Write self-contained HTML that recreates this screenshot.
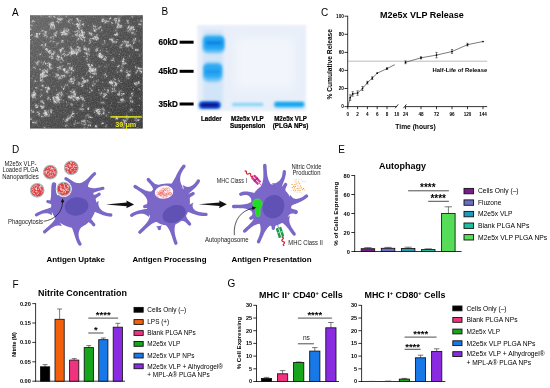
<!DOCTYPE html>
<html lang="en"><head><meta charset="utf-8"><title>M2e5x VLP figure</title>
<style>html,body{margin:0;padding:0;background:#fff;overflow:hidden}svg{display:block}text{font-family:"Liberation Sans",Arial,Helvetica,sans-serif}</style></head><body>
<svg width="550" height="388" viewBox="0 0 550 388">
<defs>
<linearGradient id="semg" x1="0" y1="0" x2="1" y2="1"><stop offset="0" stop-color="#686868"/><stop offset="0.5" stop-color="#4d4d4d"/><stop offset="1" stop-color="#383838"/></linearGradient>
<filter id="b1" x="-20%" y="-20%" width="140%" height="140%"><feGaussianBlur stdDeviation="0.42"/></filter>
<filter id="b2" x="-30%" y="-60%" width="160%" height="220%"><feGaussianBlur stdDeviation="1.6"/></filter>
<filter id="b3" x="-30%" y="-80%" width="160%" height="260%"><feGaussianBlur stdDeviation="0.9"/></filter>
<filter id="b5" x="-5%" y="-5%" width="110%" height="110%"><feGaussianBlur stdDeviation="0.9"/></filter>
<filter id="b6" x="-30%" y="-30%" width="160%" height="160%"><feGaussianBlur stdDeviation="5"/></filter>
<filter id="b4" x="-10%" y="-10%" width="120%" height="120%"><feGaussianBlur stdDeviation="2.2"/></filter>
<filter id="grain" x="0" y="0" width="100%" height="100%"><feTurbulence type="fractalNoise" baseFrequency="0.8" numOctaves="2" seed="4" result="n"/><feColorMatrix in="n" type="matrix" values="0 0 0 0 0.75  0 0 0 0 0.75  0 0 0 0 0.75  1.1 1.1 0 0 -0.95"/></filter>
<clipPath id="semc"><rect x="30" y="15.5" width="112.8" height="113.2"/></clipPath>
</defs>
<rect width="550" height="388" fill="#fff"/>
<g id="panelA">
<text x="12" y="15.6" font-size="10">A</text>
<rect x="30" y="15.2" width="112.8" height="113.4" fill="url(#semg)"/>
<rect x="30" y="15.5" width="112.8" height="113.2" filter="url(#grain)" opacity="0.32"/>
<g clip-path="url(#semc)" filter="url(#b3)">
<path d="M72 51.9h0M71.8 52.1h0M71.7 53h0M72.2 53.3h0M71.4 53.5h0M69.1 52.9h0M71.6 52.7h0M71.2 47h0M71.4 48.5h0M73.7 50.3h0M73.2 52h0M72.1 50.8h0M73.2 53.6h0M71.9 53h0M73.6 51.5h0M74.7 53.1h0M76.3 54.4h0M77.8 52.6h0M74.1 53.4h0M79.7 50.3h0M80.1 50.8h0M78.3 50.1h0M90.7 68h0M89.5 68.5h0M90 70.5h0M89.1 71.5h0M91.3 70.5h0M95 70.1h0M95.5 69.7h0M95 69.4h0M96 69.9h0M94.7 74.1h0M96.5 73.9h0M93.8 73.6h0M92.9 70.9h0M92.8 71.3h0M93.2 68.6h0M92.9 69.7h0M92 70h0M92.4 70.2h0M90.9 71h0M90.8 69.1h0M90.4 72.2h0M92.1 65.8h0M92.3 65.6h0M79.6 34.6h0M80.7 35.6h0M84.4 32.7h0M84 32.9h0M83.3 35h0M81.6 35.3h0M82.6 35.1h0M83.7 37h0M85 37.2h0M82.8 37.2h0M81.1 39.3h0M79.7 35.7h0M81.1 34.9h0M82.8 34.4h0M81.4 31.3h0M82.1 29.8h0M62.2 32.7h0M64.4 30.1h0M63.7 31.8h0M63.4 32.2h0M62.8 33.9h0M61.7 34.7h0M62.8 34.5h0M67.1 33.7h0M65 34.4h0M64.7 31.7h0M64.8 33.1h0M66 33.3h0M100.6 54.5h0M99.6 53.8h0M99.5 55.6h0M100.5 57h0M99.6 55.3h0M99.8 57h0M100.2 53.2h0M100.7 55.5h0M101.9 56.9h0M102.5 55.8h0M101.3 58.1h0M101.7 57h0M101.2 57h0M99 56.4h0M49.3 50.6h0M49.5 51.7h0M46.6 48.6h0M45.6 49.4h0M46.8 49.6h0M48.4 52.7h0M50.8 51h0M53.6 54.7h0M51.6 54.4h0M54.7 53.3h0M53.7 51.7h0M57.5 96.5h0M61.2 93h0M62.3 93.8h0M60 97.2h0M57 97.5h0M58.9 99.6h0M57.9 98.8h0M57.5 98.6h0M56.4 100h0M56.6 96.9h0M54.8 96.7h0M53.3 97.8h0M53.6 98.5h0M54.3 100.5h0M55.4 101.9h0M54.4 101.5h0M55.8 99.9h0M77.6 100.2h0M78 97h0M77 97.7h0M76.8 99.7h0M79.7 98.6h0M83 98.1h0M84.3 100.6h0M81.6 97.7h0M80.4 97h0M77.9 97.5h0M76.1 98h0M75.3 97.7h0M73.9 95.9h0M73.1 95.2h0M70.6 98.7h0M69.5 97h0M68.5 96.4h0M73.5 96.4h0M74.1 94.5h0M74.2 92h0M40.8 77.3h0M40.9 76.8h0M42.6 76.1h0M41.5 74.8h0M40.6 74.3h0M42.4 72.8h0M43.7 72.5h0M43 73.2h0M43 72.5h0M42.6 74.3h0M42.1 74.7h0M40.4 80h0M45.4 63.5h0M47.4 63.6h0M48.8 64h0M51.1 64.5h0M49.7 63.8h0M49.7 64.3h0M52 68.4h0M47.8 69.3h0M49.7 67.2h0M49.4 65.7h0M49.8 65.3h0M97.3 113.3h0M99 113.1h0M100 113.7h0M99.5 111.5h0M96.5 111.3h0M98.2 109.8h0M98.1 109.6h0M96.6 110.3h0M94.4 112.2h0M97.1 110.2h0M118.4 25.2h0M117.3 26.6h0M117.9 26.7h0M118 23.5h0M116.6 20.3h0M116.5 18.5h0M115 18.8h0M107.4 21.7h0M110.8 18.6h0M106.7 21.1h0M106.3 21.1h0M102.5 21.7h0M103.2 21.1h0M102.3 20.2h0M102.9 18.8h0M104.8 20.4h0M76.6 24.2h0M77.3 24h0M77.9 26.5h0M79 24.1h0M79.9 27.1h0M79.5 28.9h0M77.8 26.3h0M77.8 24.9h0M76.1 24.3h0M32.8 96.7h0M31.9 95.9h0M33.4 94.4h0M34.1 95.6h0M34.6 93h0M34.5 94.5h0M34.6 94.5h0M34.9 94.5h0M34.7 95h0M33.7 96.1h0M33.3 95.7h0M46.7 114.4h0M45.6 112.6h0M46.3 112.5h0M45.1 112.9h0M44.3 110.7h0M45.9 114.3h0M46.9 114.7h0M47.7 114.4h0M46.1 113.8h0M44.8 115.6h0M130.7 28.3h0M131.8 26.4h0M134.1 29.7h0M129.4 29.6h0M128.9 26.2h0M128.4 27.1h0M133.2 26.9h0M131.2 28.2h0M130.4 44.7h0M129.9 45.3h0M128.1 45.9h0M127.9 46h0M126.8 44.2h0M128.4 41.8h0M128 42.3h0M126.7 45.4h0M112.2 41h0M116.3 41.9h0M111.3 39.9h0M112 40.3h0M111 39.6h0M122.2 61.1h0M123.5 61.1h0M123.3 59.9h0M123.6 61.2h0M123.2 63.4h0M122.9 63.4h0M123.1 67.7h0M134.8 83.4h0M136 84.9h0M138.7 81.7h0M136.9 82.9h0M134.4 83.7h0M116 85.3h0M115.4 84.5h0M115.7 84.2h0M113.7 81.2h0M111.9 83h0M110.1 82.5h0M111.2 81h0M64.5 70.2h0M63.9 69h0M64.1 70.9h0M64.5 70.8h0M64 69.5h0M65.2 69.3h0M64.5 69.6h0M84.2 80.6h0M82.2 77.3h0M83.8 78.8h0M82.9 81.6h0M81.9 84.2h0M82.5 86.2h0M82.1 85.7h0M36.5 33.9h0M38 37h0M37.8 33.6h0M36.5 34.9h0M37.2 35.7h0M39.5 33.7h0M36.4 33.5h0M50.7 23.2h0M52.2 22.8h0M51.6 24.4h0M52.2 24.6h0M53.2 24h0M52.9 22.4h0M51.5 25h0M52.6 26.6h0M103.9 93.6h0M105.1 93.6h0M105.6 95h0M108.4 90.4h0M69.4 117.9h0M68.1 118.5h0M66.9 119.8h0M66.2 119.3h0M65.5 121.2h0M123.4 99.3h0M121.9 99.6h0M122.4 99.3h0M121.1 99.8h0M88.8 49.6h0M89.2 51.4h0M84.7 49.4h0M84.1 48.6h0M84.7 49.2h0M55.5 76.8h0M58.2 74.9h0M61 76.4h0M60 78.3h0M95.7 27.9h0M95.3 30h0M94.9 31h0M94.1 29.9h0M93.5 28.7h0M94.9 26.4h0M42.1 79.9h0M140.5 24.6h0M138.8 24h0M87 58.9h0M80.5 20.7h0M77.5 19.8h0M77.2 18.4h0M109.4 81.8h0M111.2 81.3h0M111.7 82.4h0M112.5 85.2h0M110.7 83.4h0M109.7 82.5h0M63.3 60.6h0M61.9 58.7h0M132.5 47h0M131.8 33h0M133.7 32.9h0M61.5 57.6h0M85 120.4h0M85.1 121.9h0M85.1 124.6h0M89.7 39.9h0M78 30.5h0M77.4 32.1h0M76.5 31.3h0M57.9 67.5h0M65.9 125.3h0M43 85.8h0M42.6 85.1h0M31.8 34.7h0M82.3 24.5h0M83.2 24.1h0M119.9 26.6h0M54.3 17h0M51.1 27.9h0M51 25.9h0M103.9 112.2h0M59.7 66.6h0M121.2 45.6h0M125 41.4h0M63.3 54.3h0M71.8 97.9h0M70 97.1h0M33.1 20.5h0M57 43.4h0M126.8 115.7h0M123.3 119.9h0M41.4 116.5h0M96.7 81h0M116 83.5h0M45.8 112.2h0M138.2 120.4h0M138.5 120.6h0M135.2 118.8h0M70.4 117h0M71.7 114.9h0M34.2 67.2h0M134.2 40.3h0M135.4 38.5h0M56.3 58.7h0M93.3 39h0M131.8 93.3h0M47.7 98.9h0M117.6 66.7h0M119.2 65.4h0M42.5 101.9h0M43.5 102.9h0M30.1 25.5h0M101.8 123.6h0M71.7 69.2h0M71.2 68.9h0M71.1 67.6h0M71.7 69.3h0M48.4 87.8h0M48.4 88.8h0M51.6 112.3h0M51.1 111.6h0M96.9 35.1h0M95.6 37.3h0M94.7 36.4h0M83.2 109.5h0M126.7 70.4h0M80 109.1h0M82.8 104.3h0M77.5 33.8h0M75.8 35h0M97 37h0M96.7 39.4h0M95.9 39.2h0M98.3 38.9h0M136.1 73h0M137.2 70.7h0M141.2 71.3h0M140.9 71.5h0M141.5 72.4h0M116.6 118.4h0M117.1 118.3h0M88.1 109h0M88.3 108.7h0M78.3 47h0M58.3 94.9h0M106.4 57.8h0M105.3 56.8h0M103.5 59.6h0M57.8 18.5h0M62.2 19.3h0M46.9 72.1h0M47 70.7h0M37.1 64.8h0M119.2 19.7h0M119.8 20.7h0M134 43h0M45 113.5h0M30.8 119.4h0M51.5 15h0M77.2 40h0M88 80.7h0M85.8 81.6h0M85.2 80.7h0M85.4 81h0M82.3 32.4h0M140.8 68.7h0M139.5 68.6h0M138.6 67.9h0M135.8 49.4h0M137.7 50h0M56 73.9h0M56.8 102.9h0M59 100.2h0M58.1 99.9h0M40.5 129.8h0M115.1 34.6h0M115.5 35.2h0M117.2 34h0M32.7 96.4h0M33.8 92.1h0M111.7 22.8h0M89.4 92.3h0M92 90.2h0M121.7 69.1h0M121.1 71.5h0M49.6 89.2h0M48.2 87.4h0M71.5 78.4h0M71.1 79.4h0M95.2 84h0M90.9 117.2h0M90.1 117.2h0M90.4 76.8h0M95.6 50h0M61.7 41.8h0M73.5 83.5h0M79.5 36.5h0M81.6 35.8h0M82.7 35.6h0M75.3 94.3h0M71.8 92.9h0M73.4 91.4h0M70.7 91.6h0M120.9 14.4h0M128.2 75h0M127.2 72.4h0M72.7 112.9h0M73.6 113.5h0M42.1 77h0M63.4 75.6h0M64.3 75.4h0M135.9 67.8h0M116.9 33.4h0M115.4 35h0M119.4 94.4h0M70.1 19.3h0M69.2 22.6h0M113.4 58.4h0M112.6 60.4h0M60 14.6h0M124.1 122.3h0M124.8 121h0M125.4 123.2h0M123.5 127h0M84.1 128.1h0M40 54.4h0M56.1 97.9h0M57.8 98.2h0M72.2 104.7h0M35.1 122.4h0M65.9 30.1h0M68.6 30.2h0M104.3 96.2h0M42.2 108.1h0M44.1 106.3h0M42 106.5h0M41 106.2h0M68.4 54.5h0M46.2 31.9h0M45.2 34.8h0M47.1 36.3h0M44.9 34.7h0M58.2 57.4h0M58.9 56.4h0M57.3 55.9h0M72.3 83.7h0M119.3 81.4h0M131.3 109h0M130.5 100.9h0M132.3 101.1h0M47.2 91.9h0M73 70.4h0M73.2 70.5h0M30.1 29.6h0M54.1 28.1h0M54.4 26.1h0M53.8 41.5h0M53.1 36.5h0M90.5 125.4h0M88.4 125.1h0M88 64.4h0M89.3 66.6h0M89.4 64.6h0M128.6 30.8h0M128.5 27.2h0M121.8 95.4h0M123.7 93.6h0M123.9 93.8h0M43.3 107.1h0M128.9 74.9h0M129.3 75.6h0M128.6 75.4h0M128.3 74.7h0M39.2 113.4h0M38.3 114.5h0M63 40.6h0M29.5 111.2h0M32.8 111.3h0M72.9 98.9h0M40.2 69.5h0M60.1 19.8h0M60.4 19.9h0M58.5 19.4h0M56.2 36h0M54.4 35.1h0M56.8 31.7h0M55.4 35.4h0M121.8 25.4h0M121.6 26.1h0M45.6 45.1h0M96.1 125.8h0M95.5 126.1h0M61.5 32.6h0M37 87.9h0M59.5 50.1h0M60.5 51.3h0M60.4 51.6h0M60.9 49.6h0M79.3 47.9h0M121.3 124.4h0M89.9 32.3h0M89.8 33.5h0M91.7 33.6h0M112.4 88.3h0M115.7 90.8h0M35 81.1h0M66.7 71.1h0M75.9 123h0M114.6 85.7h0M67.8 71.2h0M42.1 44.8h0M42.1 45.1h0M66.4 15.9h0M48.5 87.2h0M45.6 87.8h0M106.4 76.1h0M44.8 76.3h0M45.2 75.4h0M46.1 75.1h0M100.5 27.1h0M131 97.8h0M92.6 85.3h0M49.3 57.1h0M53 57.9h0M74.2 77.2h0M69.1 68.8h0M35.4 105.2h0M36.4 107.5h0M88 54.2h0M86 53.7h0M86.7 54.1h0M96.7 48.8h0M40.4 15.6h0M44.7 72.8h0M45.3 70.5h0M42.6 71h0M102 109.1h0M100.6 50.4h0M89.5 43.3h0M76.5 54.8h0M115.8 30.3h0M61 62.7h0M40.6 96.6h0M131.9 16.2h0M41.5 95.2h0M107 51.5h0M117.3 72h0M122.7 41.7h0M93.3 25.5h0M109 112.6h0M47.4 75.4h0M99.2 66.3h0M73.1 52.4h0M73.1 52.2h0M72.8 53.3h0M72 51h0M71.3 52.2h0M70.3 52.1h0M71.8 50.9h0M70.7 47.5h0M71 52.3h0M72.6 53.3h0M74.4 50.9h0M74.9 52.9h0M75.8 53.5h0M76.8 54.1h0M76.8 52.4h0M76.4 52.4h0M74.7 52h0M75.4 51.9h0M75.9 49.6h0M77.4 51.3h0M91.6 68.3h0M93 68.1h0M90.5 68h0M89.3 71.6h0M93.3 70.2h0M94.1 70h0M95.4 69.4h0M95.8 70.4h0M95.7 71.3h0M93 73.1h0M93.1 69.4h0M93.3 69h0M90.6 72.6h0M90.4 69.4h0M92.5 65.3h0M80.6 33.7h0M82.8 33.8h0M82.2 35h0M84.2 37.3h0M82.5 39.8h0M81.2 38.7h0M79.5 35.7h0M64.4 31.9h0M64.6 28.7h0M65 30.8h0M63.4 31.9h0M63.1 34.4h0M62.2 32.8h0M65.2 33.6h0M66.1 31.2h0M65.9 33.9h0M99.7 56.7h0M99.6 55.5h0M100.3 55.7h0M101.7 54.5h0M98.4 54.1h0M101.6 57.4h0M101.4 57.6h0M98.8 55h0M49.9 51.6h0M49.5 50.4h0M49 51.9h0M47.6 49.1h0M47.6 50.2h0M49.8 52.6h0M50.2 52.3h0M51.7 53.2h0M53.4 53.6h0M57.1 97.2h0M57.4 94.3h0M59.3 92.9h0M61.6 92.1h0M61.8 94.9h0M57.8 96.9h0M58.6 98.3h0M57 98.7h0M57.8 99h0M58.1 95.9h0M55.9 97.9h0M58.2 98.8h0M56.5 98.4h0M53.7 99.9h0M54.5 101.4h0M54.6 99.8h0M53.6 99.1h0M78.4 99.3h0M77.5 98.6h0M78.4 98.4h0M80.9 97.6h0M83.1 99.8h0M77.9 97.9h0M74.6 96.8h0M73.5 96.6h0M72.4 96.9h0M72.1 97.1h0M69.1 96.4h0M75.3 94h0M73.9 91.3h0M74.9 90h0M42.1 74.9h0M42.5 73.8h0M42.5 73.5h0M41.4 73.8h0M42.7 76h0M42.6 77.4h0M46 63.5h0M45.4 63.1h0M50.1 63.6h0M49.3 63.5h0M49.5 65.2h0M50.6 68.1h0M49.6 65.9h0M98.6 111.5h0M99 113.9h0M98.9 112.8h0M98.6 112.6h0M98.5 112.1h0M95.3 110.3h0M97.2 109.3h0M99.1 110h0M97.6 110.3h0M118.2 23.6h0M117.2 27.7h0M118 27.2h0M118.9 27.7h0M118.1 22.4h0M118.9 20.1h0M115.2 18.9h0M115.6 21.1h0M108.4 21.3h0M105.3 21.7h0M102 21.2h0M104.2 20.8h0M78.3 24.7h0M78.6 24.3h0M80.3 25.4h0M79 28.7h0M77.4 26.3h0M32.7 95.2h0M35 96h0M34.6 96.6h0M34.9 95.4h0M33.8 94.6h0M44.8 114.8h0M46.9 113.6h0M45.2 112.6h0M44.9 112.4h0M44.3 112.4h0M48.8 116.1h0M45.2 115h0M129.8 27.9h0M133.5 27.9h0M134.5 29.2h0M130.7 31h0M128.6 27.4h0M132.1 27.5h0M129.9 45.3h0M126.5 46.2h0M128 43.4h0M112.4 39.7h0M112.7 42.6h0M113.8 42.5h0M116.3 41.6h0M112.8 39.5h0M111.7 39.6h0M110.9 38.8h0M122.6 61.2h0M123.3 59.4h0M123.6 58.3h0M137.1 84.2h0M139 83.2h0M139 83.4h0M138 83.3h0M112.9 83.1h0M115.5 84h0M116.7 83.4h0M114.2 82.3h0M110.4 83h0M64.6 69.7h0M64.8 70.4h0M64.3 70h0M64 68.8h0M63.6 68.9h0M64.4 70.5h0M84.7 81.9h0M83 81.4h0M83.4 82.1h0M82.8 83.1h0M35.3 36.7h0M37.2 35.9h0M36.9 35.3h0M39.4 33.6h0M37.5 34h0M51.4 23.6h0M51.7 23h0M53.9 24.7h0M53 22.4h0M104.5 96.8h0M106.4 94.3h0M108.4 90.9h0M107.6 89.9h0M67.9 117h0M67.4 119.6h0M66.9 119.4h0M66.7 121.1h0M66.3 121h0M67.6 119.6h0M121.8 99.5h0M124 100.3h0M88.8 48.4h0M86.6 50.2h0M86.7 49.3h0M84.2 49h0M85.9 48.4h0M84.4 47.7h0M57.3 76.7h0M57.9 75.1h0M57.1 74h0M59.6 76.5h0M60.8 78.4h0M58.7 78.6h0M95.4 30.7h0M95 26.4h0M41.9 81.3h0M141.1 25h0M139.7 24.3h0M100.2 93.5h0M86.2 59h0M78.3 20.9h0M79.3 20.6h0M109.8 83.1h0M111.7 83.6h0M104.5 42.8h0M72.7 23.3h0M132.2 32.4h0M61.2 57.3h0M61.6 57.8h0M61.8 58.7h0M83.1 120.6h0M85.2 122.9h0M83.9 124.7h0M90.3 41.7h0M79.2 32.2h0M76.9 33.2h0M59.9 68.7h0M57.9 69.1h0M60.3 67.7h0M67.1 125.3h0M44.1 62.5h0M43 85.2h0M82.2 24.2h0M83.4 24.6h0M120.7 25.4h0M117.7 24.9h0M54.6 15.7h0M51 25.5h0M103.2 113.8h0M61 66.6h0M29.7 42.9h0M121.5 45h0M123.9 43.1h0M124.2 41.7h0M125.4 42.4h0M63.6 53.6h0M64.7 55.5h0M71 95.6h0M32.5 21.7h0M56.8 44.9h0M58.1 43.1h0M126.8 118.1h0M126.7 118h0M126.9 119h0M123.4 120.2h0M42 116.2h0M115.4 83.3h0M46.1 112.6h0M43.5 113.6h0M43.9 113.5h0M46 112.4h0M139.1 119.5h0M136.7 121h0M71.2 116h0M70.4 117.6h0M72.3 114.3h0M133.5 39.6h0M135.3 40.1h0M135.6 38.6h0M60.1 59.6h0M57.8 59.2h0M131.8 93.4h0M132.5 93.3h0M132.7 95.5h0M48.6 97.2h0M49 98.6h0M118.6 66.4h0M42.5 101.8h0M43.4 102.8h0M41.4 101.8h0M140.6 21.1h0M32 25.4h0M102.7 123.1h0M71.3 68.6h0M71.8 67.9h0M47 89.8h0M48 87.3h0M48.5 88.5h0M48.5 112.7h0M76.3 53.1h0M96.9 36.1h0M94.9 36.7h0M93.8 37.5h0M94.1 39.2h0M82.1 109.8h0M129.1 71.5h0M120.1 47.4h0M82.2 106.1h0M76 34.7h0M76.9 35.2h0M76.7 36h0M96.7 37h0M97.2 37.5h0M136.2 72.4h0M139.2 70.6h0M117.4 119.1h0M116.6 117.1h0M87.7 108.7h0M88.3 108.3h0M88.2 108.3h0M77.4 47h0M58.7 95.4h0M57.9 93.7h0M104.4 58.5h0M104.1 58.2h0M57.8 17.8h0M62.4 18.2h0M61.1 19.3h0M60.5 18.2h0M46.4 70.3h0M47.1 72.3h0M37.5 62.7h0M36.9 63.4h0M35.3 62.3h0M37.7 62.2h0M39.2 61.4h0M119.4 20.9h0M48.3 110.9h0M134.2 41.8h0M45.2 112.7h0M31.3 118.9h0M31.1 118.2h0M62.9 49.2h0M63.1 48.3h0M51.2 16.5h0M49.3 16.4h0M78.2 39.5h0M87.8 79.8h0M84.4 80.4h0M87.7 81.7h0M82.5 31.8h0M82.6 32.1h0M81.8 33h0M38.4 112.8h0M140.8 69.8h0M135.9 49.3h0M136 50.2h0M93.4 69.9h0M94.3 71.6h0M57.5 101.8h0M58.7 102h0M58.5 101.2h0M44.7 127.4h0M117.7 34.4h0M117.1 32.8h0M104.1 103.2h0M102.2 102.5h0M101.2 102.8h0M31.9 94.9h0M31.9 94.1h0M33.6 93.2h0M34.9 92.3h0M111.8 22.6h0M64.3 87.8h0M91.6 90.1h0M115.2 79.5h0M120.7 70.2h0M49.2 88.2h0M48.1 87.7h0M70.4 79h0M71.3 78.1h0M70.6 81.7h0M71.4 81.3h0M93.3 81.8h0M41.8 31.1h0M90.8 117.4h0M89.2 116.6h0M88.2 115.6h0M86 115.9h0M92.7 77h0M96.5 49.8h0M70.8 55.2h0M71.1 80.4h0M69.1 81.7h0M73.6 82.6h0M80.5 37.1h0M75 93.6h0M73.2 93.1h0M73.7 92.6h0M71.5 91h0M120.1 15.1h0M121.4 14.9h0M128.6 76h0M41.8 75.7h0M64.6 75.1h0M64.1 77.1h0M62.6 76.3h0M116 34.5h0M117.6 94.6h0M118.9 94h0M119.1 94.2h0M119.4 92.4h0M120.9 90.7h0M69.5 20.6h0M67 28.9h0M112.1 59.7h0M60.2 14.7h0M60.4 14.9h0M124.1 120.6h0M124.7 121.5h0M84 129.3h0M60.9 99.6h0M57.2 99h0M71.9 105.2h0M35.7 123h0M34 122h0M67 31.1h0M68.9 32.5h0M103.7 97h0M42.1 108.1h0M41.7 106.9h0M41.1 106.6h0M79.8 83h0M78.9 84.4h0M67.8 54.7h0M66.3 55h0M46 31.5h0M45.9 31.5h0M45.2 31.7h0M45.2 33.4h0M46.7 37.8h0M60 57.3h0M58.5 58.2h0M59.5 57h0M58 56.1h0M119 80.5h0M130.7 110.6h0M130.2 109.8h0M111.8 91.8h0M132.5 101.2h0M47.2 90.9h0M46.9 91.9h0M47.3 89.4h0M54 29h0M54.8 27.2h0M54 25.5h0M53.3 41.7h0M50.6 37.6h0M90.1 125.3h0M89.6 65.3h0M88.3 64h0M131.2 29.4h0M130.3 30.1h0M122.9 94.1h0M41.7 107h0M67.2 85.2h0M67.1 85.2h0M65.7 85.2h0M129.8 74.3h0M127.3 75h0M128 75.6h0M39.4 115.1h0M62.6 40.6h0M32.2 112.4h0M50.7 110.3h0M51.2 109.7h0M119.2 18.1h0M73.3 100h0M58.1 19.2h0M57.8 21h0M59.3 21.7h0M54.3 34.6h0M56.4 32.4h0M55.5 34.1h0M121.7 26.2h0M45.1 45.3h0M45.6 44.2h0M36.5 121.8h0M96.8 126.3h0M96.2 126.1h0M60.9 32.3h0M62.1 32.3h0M127.4 21.6h0M128 21.3h0M128.2 20.4h0M128 20.8h0M60.4 49.5h0M61.3 51.1h0M60.4 50.3h0M80.1 47.5h0M143.8 20.4h0M145.4 20.3h0M146.2 19h0M122.7 124.6h0M121.7 101.9h0M67.9 63.8h0M90.6 33.5h0M91.6 34.7h0M112.4 89.2h0M114.3 88.3h0M84.4 40.7h0M35.6 81.4h0M65.9 72.8h0M67.2 72h0M67 72.9h0M65 71.9h0M74.7 124.2h0M41.5 89.9h0M71.6 72.6h0M124.6 63.2h0M125.9 63.2h0M46.8 87.5h0M105.8 126.2h0M104.8 74.6h0M43.9 76.1h0M46.9 76h0M96.6 29.3h0M98.6 28.1h0M130 98.1h0M93.1 85.9h0M51.2 56.2h0M49.7 56.8h0M51.7 58.4h0M52.3 58h0M69.9 68.3h0M69.2 66.8h0M37.1 107.2h0M36.6 105.2h0M35.9 105.5h0M37.3 106.2h0M35.9 107.4h0M87.1 54.2h0M86.8 52.5h0M86.5 53.5h0M96.8 50.7h0M82.7 120.8h0M44.6 72.4h0M45.1 71.4h0M43.3 70.6h0M43.3 70.4h0M103.2 110h0M89.1 122.1h0M81.4 123.2h0M106.3 115.4h0M61.6 75.4h0M128.2 78.4h0M43.5 62.8h0M91.9 64.9h0M101.6 92.2h0M41.7 62.7h0M72.8 111.6h0M139.8 55h0M72.8 35.8h0M132.7 17.2h0M43.1 30.6h0M126.4 76.9h0M104.5 89.3h0M104.9 66.2h0M64.4 51.4h0M58.1 54.5h0M129.6 56.1h0M118.9 102.3h0M50.8 40.8h0M102.9 44.2h0M44 46.9h0M139.7 98.2h0M78.8 99.3h0M127.2 31h0M61.6 86.9h0M101.5 114.5h0M50.2 41.7h0M137.9 67.7h0M139.3 41.1h0" stroke="#909090" stroke-width="2.6" stroke-linecap="round" fill="none" opacity="0.42"/>
</g>
<g clip-path="url(#semc)" filter="url(#b1)">
<path d="M74.1 52.5h0M72.3 51.4h0M71.8 53.3h0M70.8 53.6h0M69.7 52.2h0M72.2 52.1h0M72.3 48.7h0M72.4 49.7h0M71.4 51.4h0M71.6 52.2h0M72.1 53.8h0M78.5 52.7h0M75 50.9h0M76.4 48.3h0M76.5 49.6h0M76.6 51.6h0M91.2 71.1h0M95.7 73.5h0M94.5 74.5h0M93.4 74.7h0M93.6 71.7h0M92.7 70.5h0M92.5 69.5h0M93.9 68.9h0M92.2 69.6h0M89.6 68.8h0M91 66.5h0M91.9 66.1h0M82.3 33.4h0M83.5 33.6h0M82.7 33.9h0M84.4 37.5h0M78.9 39.7h0M82.5 32.9h0M81 30.6h0M81.7 32h0M63 34.6h0M62.1 34.7h0M63.2 33.9h0M65.1 34.4h0M65.6 32.6h0M65.2 30.8h0M64.6 31.4h0M64.3 35.5h0M99.7 57.1h0M100.6 56.2h0M101 55.2h0M100.8 53.8h0M99.7 53.2h0M99.5 54.3h0M99.1 54h0M100.7 55.5h0M101.7 56.7h0M100.9 57.7h0M99.6 55.9h0M47.3 49.2h0M45 48.7h0M47.8 51.5h0M48.3 52.2h0M50.5 52.2h0M49.5 51.5h0M51 53.5h0M53.2 54.8h0M54 51.2h0M56.7 95.7h0M58.9 92.8h0M56.8 95.5h0M57.7 99.4h0M58.3 99.1h0M57.5 99.9h0M56.6 96.3h0M54 103.1h0M78 99.3h0M81.6 98.7h0M82.5 100.1h0M83.6 99.1h0M77.2 98h0M74.5 97.5h0M72.7 96.6h0M71.3 98.3h0M71.3 98h0M72.6 96.3h0M40.2 79.4h0M40.8 75.1h0M41 73.9h0M42.3 73.3h0M41.6 73.3h0M43.1 73.7h0M43.1 73.5h0M43.2 74.5h0M44.4 73.3h0M43.2 73.5h0M43.8 75.2h0M42 77.1h0M50.2 67.3h0M49.7 68.9h0M50 68.3h0M97.5 111.9h0M98.5 112.8h0M98.4 113h0M98.9 113.7h0M98.6 111.6h0M117.5 25.3h0M117.8 24.1h0M118.8 26.8h0M119.4 26.5h0M118.8 21h0M115.3 18.5h0M114.6 19.5h0M114.8 20h0M109 21.4h0M109.3 20.5h0M109.5 19.4h0M108.5 18.7h0M106.5 20.9h0M106.6 21.7h0M105.3 21.1h0M103.9 21.4h0M105.4 20.8h0M77.1 24.6h0M77.9 25h0M77.7 24.5h0M78.6 27h0M33.4 95.8h0M31.9 96h0M46.8 116.2h0M46.6 115.8h0M45.9 113.4h0M45.4 113.4h0M46.8 113.1h0M45.7 110.6h0M47.3 116.1h0M48.5 115.3h0M133.8 28.3h0M132.9 28.5h0M132.4 30.4h0M132 27.9h0M130.9 27.9h0M129.2 44.9h0M125.4 45.4h0M126.3 43.3h0M128.1 42.4h0M127 44.8h0M126.7 45.7h0M111.5 39.8h0M109.9 40.2h0M122.2 61.5h0M123.3 59.6h0M122.6 60.3h0M124.6 61.8h0M122.1 64h0M123.2 63.9h0M123 64.6h0M122.1 66.7h0M137.2 83.6h0M136.7 83.2h0M136.1 83.3h0M117.7 83.7h0M116.8 84.7h0M110.8 81.2h0M64.8 71h0M83.9 80.8h0M81.1 78.6h0M83.8 79.8h0M82.5 83.3h0M81.7 86.5h0M35.3 34.7h0M36.5 36.7h0M36.9 37.1h0M37 36.3h0M51.2 24.3h0M51.3 24.8h0M51.4 25.4h0M102.9 97h0M106.7 94.7h0M107.7 89.9h0M67.9 117h0M67.9 118.8h0M67.2 118.9h0M66.7 120.4h0M68.4 119.4h0M64.7 120.5h0M123.6 100.1h0M120.8 98.6h0M120.9 99.2h0M88.3 48.7h0M87.6 51.6h0M85.6 48.7h0M85.2 47.3h0M59 79.1h0M58.5 79.7h0M96 31.4h0M94.7 30.3h0M94.9 26.9h0M95.9 26.2h0M41.3 79.9h0M101 94.7h0M87.2 58.7h0M87.1 58.2h0M87 57.1h0M76.7 19.8h0M80.8 21.2h0M82.1 21.2h0M78.2 20h0M77.3 19.7h0M78 18.5h0M109.3 81.6h0M110.4 82.3h0M112.3 83.3h0M105.8 41.9h0M74.4 24.5h0M73.2 24h0M130.4 44.8h0M132 33.3h0M134 35.2h0M82 121.1h0M91 39.9h0M75.4 31.3h0M59.5 67.3h0M60.8 68.6h0M60.1 68.4h0M60.1 68.8h0M60.3 67.7h0M60.1 68.3h0M71.2 74.6h0M71 74.1h0M70.2 75.6h0M65.4 126.4h0M43.4 63.5h0M83.8 25.7h0M119.3 25.7h0M53.9 16.2h0M54.2 17h0M52 28.2h0M51.3 27.7h0M51.5 27.1h0M50.1 27.6h0M103.6 112.3h0M104.3 113.8h0M102.9 113.4h0M103.3 112.9h0M62.6 66.5h0M61.3 65.8h0M28.7 40.7h0M29.4 40.6h0M30.2 40.3h0M29.7 40.9h0M29.4 41.2h0M28.8 43.4h0M121.1 44.4h0M122.8 43.8h0M124.4 41.2h0M62.4 54.4h0M62.3 54h0M65.7 55.6h0M70.5 97.6h0M57.3 44.9h0M126.3 117.4h0M123.7 120.3h0M78.5 49.2h0M41.5 116.4h0M97.2 81.3h0M56.6 21.7h0M57.9 22.4h0M45.9 112.6h0M45 113.6h0M44.3 114.1h0M46.2 112.8h0M71.3 116.4h0M71.6 115.8h0M74 115h0M74.6 115.9h0M35.4 68.7h0M61 58.5h0M58.4 58.5h0M56.4 59.5h0M92.9 38.7h0M133.1 92.7h0M132.1 94.5h0M131.1 95.1h0M48.3 97.2h0M48.5 97.6h0M47.7 98.2h0M48.8 99.6h0M43 101.7h0M43.4 102.4h0M44 102.2h0M141.4 20.6h0M31 24.7h0M31.5 25.2h0M31.4 25.2h0M33.8 23.6h0M71.8 69.1h0M71.1 68.4h0M47.5 89.2h0M51.3 112.6h0M95.7 37.2h0M95.1 37.7h0M94.6 38.2h0M101.9 29.6h0M101.7 30.6h0M101.5 29.4h0M102 29.9h0M127.5 71.1h0M129.8 72.7h0M80.5 108.7h0M81.1 108.8h0M81.3 109h0M81 108.8h0M119.7 46.8h0M82.1 106.2h0M82.8 106.6h0M76 34.7h0M77.3 34.8h0M77 35.3h0M77.5 35.7h0M96.2 37.2h0M96.1 39.5h0M95.3 38.4h0M96.7 37.4h0M97.7 37.8h0M140.1 71.1h0M117.4 118.1h0M116.3 118.3h0M116.9 117.5h0M117 117h0M115.7 118.7h0M88.1 108.7h0M77 47.5h0M77.4 46.9h0M77.3 47.5h0M56.6 94.6h0M104.9 58.3h0M104.5 58h0M104.8 59.9h0M58.6 18.3h0M60.9 17.8h0M61.4 20.4h0M60.1 19.7h0M46.2 72.4h0M36.7 62.6h0M37.3 63.8h0M37.4 64.7h0M36.6 62.2h0M37.9 62.5h0M118.3 20.6h0M117.9 21.4h0M118.2 21.5h0M47 112.1h0M48 110.9h0M133.1 43.7h0M46.3 112.1h0M30.8 119.5h0M50.4 15.5h0M51.2 15.9h0M51 16.8h0M50.9 16h0M50.2 17.6h0M86.1 80.6h0M81.1 31.8h0M139.7 69.1h0M139.1 68h0M136.3 49.5h0M138.2 50.4h0M138.4 50.5h0M93.2 69.4h0M55.9 74.3h0M54.8 102.5h0M56.4 102.2h0M56.6 103.1h0M59.2 102.1h0M59 100.9h0M58.6 99.7h0M44.6 128.3h0M43.6 129.6h0M116.5 35.3h0M114.9 34.6h0M115.7 34.7h0M115.6 35.1h0M32.1 97.5h0M32.6 92.9h0M33.4 92.9h0M34.7 90.8h0M34.1 91.4h0M64.6 88.1h0M63.1 88.6h0M63.8 89.1h0M63.6 88.6h0M90.1 88.1h0M89.5 87.2h0M90.2 89.3h0M120.9 68.4h0M121.8 70.4h0M49.6 88.4h0M48.3 87.5h0M71.6 78.7h0M94.1 83.7h0M42.4 31.1h0M92.2 117.9h0M88 114.9h0M86.7 115.2h0M96.5 49.6h0M71.3 54.5h0M70.7 55.6h0M70.8 55h0M63.5 42.4h0M71.1 80.5h0M69.6 82h0M70.4 81.5h0M71.2 82.3h0M74.4 81.1h0M80.9 37.5h0M74.9 94.5h0M72.9 92.2h0M71.2 91.4h0M117.9 14.5h0M122 14.7h0M122.5 13.6h0M121.4 14.5h0M115.5 23.5h0M126 72.3h0M42.7 77h0M135 66.3h0M116.8 33.9h0M119 94.1h0M118.3 95.1h0M119 94.8h0M118.1 95.2h0M121 91h0M69 20.6h0M67.5 21.5h0M68.3 21.7h0M113.7 59.3h0M112.2 60.4h0M125.7 121.2h0M125 126h0M124.9 126h0M125.2 125.9h0M122.8 127.7h0M123.8 127.6h0M84.3 128h0M61.4 99.9h0M57.4 98.4h0M57.4 98h0M57 97.7h0M57.7 97.8h0M33.6 122.3h0M34.9 122.6h0M33.9 122h0M34 123.5h0M68.8 31.8h0M67.8 32.2h0M67.9 31.1h0M104.8 95.4h0M104.6 96.1h0M103.5 97h0M43.7 108.2h0M43.4 107.8h0M43.8 107.3h0M42.9 107.7h0M42.6 106.9h0M41.5 106.1h0M78.5 84h0M79.8 84.1h0M79 83.2h0M77.7 83.4h0M78 84.5h0M67.7 54.8h0M46 36.6h0M46.2 35.5h0M44.7 35.6h0M44.9 33.3h0M43.6 34h0M58.7 57.8h0M58.3 55.7h0M57.6 56.1h0M57.5 56.1h0M72.9 82h0M73.2 81.6h0M73.5 81.6h0M131.7 111.3h0M134 102.4h0M132.1 101.8h0M132 102.3h0M131.4 101h0M47.6 92.1h0M47.7 90.2h0M74.6 69.1h0M75 70.8h0M53.9 39.5h0M50.3 37.8h0M50.4 38.4h0M129.3 32.2h0M130.2 30.5h0M129.6 28.5h0M43.1 107.9h0M42.4 107.3h0M128.4 74.2h0M140.4 90.2h0M138.6 88.5h0M39.7 111.4h0M29.5 110.3h0M31.9 111.1h0M33.3 111.4h0M52.2 110.5h0M117.2 18.2h0M120 17.5h0M40.2 69.1h0M58.9 19.4h0M58.2 23h0M55.3 32.7h0M55.2 32.9h0M55.9 32.4h0M56.3 32.2h0M55.5 34.8h0M120.9 27.3h0M120.3 25.5h0M120.4 26.4h0M45.4 45.3h0M45.2 44.7h0M44.8 44.6h0M37.3 122.7h0M96.4 127.1h0M95.8 127.2h0M36.5 87.8h0M128 21h0M127 20.5h0M60.9 51.9h0M60 50.8h0M60.7 50.4h0M78.6 48.5h0M146 19.8h0M146 18.5h0M122.1 124.5h0M122.1 124.5h0M123.2 101h0M123.1 99.8h0M122.5 101h0M89.4 33.6h0M91.1 32.6h0M91.7 34h0M91.8 34.2h0M92 34.2h0M92.2 35.4h0M91.7 34.5h0M114.8 90.3h0M114.5 91.4h0M114 90.7h0M113.2 90.5h0M35.3 80.6h0M35.2 81.4h0M34.2 82.1h0M67.5 71.5h0M66.8 71.6h0M67.4 73.4h0M74.3 126.3h0M77.3 122.7h0M79.8 123h0M79.6 122.4h0M40.5 89.6h0M115 86.8h0M114.6 86h0M67.5 73.9h0M69 73.9h0M68.2 71.2h0M41 45.1h0M41.3 45.4h0M125.7 63.5h0M125.4 63.1h0M125.8 62.5h0M65.8 17.1h0M48.1 88.7h0M46.8 88h0M106.2 126.1h0M44.9 75.1h0M44.6 74.7h0M45 76.2h0M46.3 75.7h0M96.5 29.5h0M97.7 28.8h0M97.7 29.3h0M131 98.5h0M92.7 85h0M52.4 56.1h0M50.9 55.8h0M73.6 78.4h0M74.7 78.6h0M69.5 67.4h0M37.1 106.3h0M38.2 105.5h0M37 105h0M36.8 108h0M84.7 53.4h0M85.7 53.3h0M97.5 48.9h0M41.3 15.3h0M81 120.3h0M43.7 70.2h0M44.5 71.1h0M103.2 107.6h0M103.1 107.3h0M104.6 109.3h0M66.3 93.5h0M141.2 84h0M47.5 72.6h0M140.7 27.6h0M33.9 100.2h0M73 99.2h0M127.8 37.3h0M80.4 95.6h0M82.3 124h0M32.3 78.3h0M90.3 98.3h0M78.4 51.3h0M77.5 75.5h0M54.5 86.5h0M32.7 56.6h0M90.6 122.7h0M32.5 43h0M65 108.7h0M87.1 62h0M124.8 55h0M50.8 63.8h0M63.9 102.6h0M31.5 78.1h0M86.6 70h0M53.8 113.1h0M110.6 104.7h0M42.1 41.5h0M85.5 75.6h0M79.9 48.1h0M109 64.3h0M141.3 61.2h0M84.4 31.6h0M78.2 60.7h0M51.7 41.1h0M114 75.6h0M33.1 76.2h0M36.2 87.7h0M104.2 34.8h0M134 22.1h0M66.1 67.3h0M34.8 111.9h0M33.5 110.1h0M57.8 111.1h0M54.4 46.9h0M50.2 101.4h0M58.5 21.8h0M67.7 104.7h0M109.3 93.9h0M105.2 60.3h0M103.1 62.5h0M85.9 118.5h0M66.4 105.7h0M74.4 45.2h0M118.1 83.7h0M134.6 63h0M93.8 85.4h0M121.3 72.6h0M99.2 92.8h0M66.9 51.4h0M142.4 115.5h0M70.3 81.1h0M70.5 119.1h0M83 18.9h0M36.1 99.3h0M67.9 46.9h0M110.2 87.3h0M37.8 112.1h0M106.4 66.2h0M72.2 43.8h0M137.2 127.6h0M68.4 46.1h0M96.9 46.8h0M125 23.7h0M66.1 76.5h0M80.7 48.1h0M95.6 115h0M63.5 95.6h0M99.2 115.9h0M77.3 37.3h0M31.7 69h0M81.6 34h0M141.7 68.8h0M55 101.2h0M51.5 113.4h0M60.2 75.9h0M46.4 122.6h0M120.5 51.6h0M78.1 37.1h0M77.6 57.5h0M38.1 20h0M61.3 22.7h0M93.6 16.8h0M40.8 94.2h0M37.8 19.2h0M39.8 119.9h0M86.7 48.4h0M129.7 103.3h0M73.7 117.7h0M55.4 52.6h0M100.2 32h0M76.6 78.6h0M111.6 107.5h0M62.2 18.3h0M68.6 102.3h0M54.6 25.8h0M101.8 78.1h0M126.2 105.5h0M36.5 34.8h0M86.7 17.9h0M93.7 55.4h0M108.8 53.8h0M107.9 83.1h0M67.4 40.9h0M30.6 42.6h0M48.8 24.4h0M90 41.4h0M122 116.4h0M34.8 34.2h0M125.4 101.9h0M87.6 90.7h0M69.9 33.5h0M139.2 16.7h0M111.3 103h0M65.2 112.5h0M73.8 122.8h0M131 73.3h0M54.4 103.4h0M103.2 48.8h0M125.2 71.5h0M71 125.1h0M129 50.7h0M78.2 81.5h0M50.3 74.3h0M126.8 28.1h0M91.6 46.8h0M132.5 40.5h0M77.3 49.6h0M44.2 69.3h0M55.7 115.5h0M121.6 121.4h0M114.6 52.8h0M119.8 75.8h0M63.8 47.4h0M88.3 25.4h0M117.3 41.6h0M133.1 53.1h0M32.1 26.2h0M128.2 58h0M44.8 114.7h0M117.9 68.5h0M42.8 25.6h0M95.8 68.1h0M107.2 44.1h0M98.3 90.2h0M68.3 115h0M106 67.8h0M87.6 127.6h0M92.1 72.5h0M39.8 85.1h0M68.6 86.8h0M76 65.3h0M75.6 66.1h0M74.7 79.6h0M138.7 76.5h0M82.5 43.3h0M68.5 20.1h0" stroke="#969696" stroke-width="0.95" stroke-linecap="round" fill="none" opacity="0.75"/>
<path d="M73.1 52.4h0M72.9 52.1h0M73.1 52.2h0M74.4 52.6h0M72.8 53.3h0M71 51.6h0M72 51h0M71.5 53.1h0M71.3 52.2h0M69.7 53h0M70.3 52.1h0M69.9 53.7h0M71.8 50.9h0M71 50.5h0M70.7 47.5h0M73.2 49.7h0M71 52.3h0M71.6 53.3h0M72.6 53.3h0M71.8 54.1h0M74.4 50.9h0M74.9 52.4h0M74.9 52.9h0M75.2 53.1h0M75.8 53.5h0M77.5 53.8h0M76.8 54.1h0M76.6 52.2h0M76.8 52.4h0M76.3 52.9h0M76.4 52.4h0M77.4 52.5h0M74.7 52h0M75.6 51h0M75.4 51.9h0M74.4 52.9h0M75.9 49.6h0M76.8 50.1h0M77.4 51.3h0M90.2 68.2h0M91.6 68.3h0M92.2 68.3h0M93 68.1h0M90.2 68.4h0M90.5 68h0M89.3 69.1h0M89.3 71.6h0M90.8 71.2h0M93.3 70.2h0M93.2 70.6h0M94.1 70h0M93.8 69.6h0M95.4 69.4h0M95.8 68.4h0M95.8 70.4h0M95.7 70.6h0M95.7 71.3h0M94.5 73.5h0M93 73.1h0M93.7 69.2h0M93.1 69.4h0M94.1 69.2h0M93.3 69h0M93.8 68.9h0M90.6 72.6h0M91.4 70.5h0M90.4 69.4h0M90.5 67.4h0M92.5 65.3h0M79.2 34.5h0M80.6 33.7h0M80.4 34.8h0M82.8 33.8h0M81.7 32.9h0M82.2 35h0M82.8 36.9h0M84.2 37.3h0M82.4 37.3h0M82.5 39.8h0M81.1 38.2h0M81.2 38.7h0M80.3 37.7h0M79.5 35.7h0M81.4 30.5h0M64.4 31.9h0M63.9 28.9h0M64.6 28.7h0M65.2 30.9h0M65 30.8h0M63.7 30.8h0M63.4 31.9h0M64.2 31.7h0M63.1 34.4h0M62.7 34.2h0M62.2 32.8h0M63.3 32.5h0M65.2 33.6h0M65.2 33.5h0M66.1 31.2h0M65.7 33.3h0M65.9 33.9h0M66.5 34.4h0M99.7 56.7h0M99.3 56.4h0M99.6 55.5h0M99.5 56.1h0M100.3 55.7h0M98.1 56h0M101.7 54.5h0M101.7 54.5h0M98.4 54.1h0M103.6 55.8h0M101.6 57.4h0M102.7 56.2h0M101.4 57.6h0M100 56.9h0M98.8 55h0M99.3 55.3h0M49.9 51.6h0M49.3 51h0M49.5 50.4h0M50.6 50.4h0M49 51.9h0M49.3 51h0M47.6 49.1h0M46.7 48.9h0M47.6 50.2h0M47.4 51.2h0M49.8 52.6h0M51.1 52.6h0M50.2 52.3h0M50.7 53h0M51.7 53.2h0M53.2 53.9h0M53.4 53.6h0M52 53.8h0M57.1 97.2h0M57.4 96.1h0M57.4 94.3h0M57.6 94.2h0M59.3 92.9h0M59.3 93.5h0M61.6 92.1h0M62.2 94.7h0M61.8 94.9h0M61.6 95.7h0M57.8 96.9h0M57.1 96.6h0M58.6 98.3h0M58.5 98.2h0M57 98.7h0M58 97.7h0M57.8 99h0M57.8 97.2h0M58.1 95.9h0M57.4 96.7h0M55.9 97.9h0M57.6 98.8h0M58.2 98.8h0M58 100.7h0M56.5 98.4h0M55.8 98.1h0M53.7 99.9h0M55.9 101.6h0M54.5 101.4h0M54 100.9h0M54.6 99.8h0M54.2 99.8h0M53.6 99.1h0M52.8 97.5h0M78.4 99.3h0M78.3 98.6h0M77.5 98.6h0M77.1 98.4h0M78.4 98.4h0M76.4 98.9h0M80.9 97.6h0M81.9 98.9h0M83.1 99.8h0M81.8 96h0M77.9 97.9h0M74.6 96.2h0M74.6 96.8h0M74.6 94.3h0M73.5 96.6h0M73.2 96.5h0M72.4 96.9h0M72 97.6h0M72.1 97.1h0M69 95.7h0M69.1 96.4h0M70.4 96.8h0M75.3 94h0M74.2 92.3h0M73.9 91.3h0M74.4 91.7h0M74.9 90h0M41.2 73.9h0M42.1 74.9h0M42 74.9h0M42.5 73.8h0M43.9 74.6h0M42.5 73.5h0M42.3 73.8h0M41.4 73.8h0M40.9 74h0M42.7 76h0M42.2 77.2h0M42.6 77.4h0M42.4 79.1h0M46 63.5h0M45.5 63.8h0M45.4 63.1h0M49.3 64.7h0M50.1 63.6h0M49.5 63.2h0M49.3 63.5h0M48.8 62.4h0M49.5 65.2h0M50 65.1h0M50.6 68.1h0M51.3 67.5h0M49.6 65.9h0M50.1 64.9h0M98.6 111.5h0M98.4 112.4h0M99 113.9h0M98.6 113.2h0M98.9 112.8h0M98.9 114.6h0M98.6 112.6h0M99.8 111.6h0M98.5 112.1h0M97.3 112.2h0M95.3 110.3h0M96.1 108.8h0M97.2 109.3h0M99.2 108.9h0M99.1 110h0M98.1 109.6h0M97.6 110.3h0M99.1 110.1h0M118.2 23.6h0M118.4 24.6h0M117.2 27.7h0M117.4 27.1h0M118 27.2h0M119.8 27h0M118.9 27.7h0M117.6 26.3h0M118.1 22.4h0M118.9 21.1h0M118.9 20.1h0M115.9 18.3h0M115.2 18.9h0M114.2 19h0M115.6 21.1h0M116.5 20.8h0M108.4 21.3h0M110.7 17.8h0M105.3 21.7h0M105.8 22.8h0M102 21.2h0M101.7 20.1h0M104.2 20.8h0M77 24.3h0M78.3 24.7h0M78.9 25.4h0M78.6 24.3h0M79.6 24.6h0M80.3 25.4h0M78.9 26.4h0M79 28.7h0M77.8 25.7h0M77.4 26.3h0M33.2 97.2h0M32.7 95.2h0M33.9 94.8h0M35 96h0M35.3 98h0M34.6 96.6h0M34.4 95h0M34.9 95.4h0M35.9 94.9h0M33.8 94.6h0M44.4 113.6h0M44.8 114.8h0M45.8 114h0M46.9 113.6h0M46.7 114.7h0M45.2 112.6h0M44.9 113.4h0M44.9 112.4h0M45.3 110.7h0M44.3 112.4h0M45.5 113.3h0M48.8 116.1h0M45.3 115.4h0M45.2 115h0M45.4 116h0M129.8 27.9h0M131.6 28.7h0M133.5 27.9h0M133.7 27.1h0M134.5 29.2h0M133 29.2h0M130.7 31h0M128.4 28.2h0M128.6 27.4h0M129.9 26.7h0M132.1 27.5h0M131.3 28h0M129.9 45.3h0M126 46.4h0M126.5 46.2h0M126.1 43.9h0M128 43.4h0M127.1 41.8h0M112.4 39.7h0M112.4 41.7h0M112.7 42.6h0M113.5 41.4h0M113.8 42.5h0M114.8 42h0M116.3 41.6h0M114.2 41.2h0M112.8 39.5h0M112.9 40.2h0M111.7 39.6h0M109.8 39.3h0M110.9 38.8h0M111.4 39.1h0M122.6 61.2h0M123.5 61.6h0M123.3 59.4h0M124.2 59.5h0M123.6 58.3h0M123.9 63.1h0M137.1 84.2h0M138.8 82.8h0M139 83.2h0M138.7 83.4h0M139 83.4h0M138.9 83.2h0M138 83.3h0M136.4 82.2h0M112.9 83.1h0M114.9 85.5h0M115.5 84h0M116.5 85.5h0M116.7 83.4h0M115.5 82.3h0M114.2 82.3h0M110.7 83.2h0M110.4 83h0M112.3 82.8h0M64.6 69.7h0M63.5 69.6h0M64.8 70.4h0M63.8 69.1h0M64.3 70h0M64.7 68.8h0M64 68.8h0M63.1 69.6h0M63.6 68.9h0M62.9 69.7h0M64.4 70.5h0M65 68.7h0M84.7 81.9h0M82.9 78.6h0M83 81.4h0M83.2 81.5h0M83.4 82.1h0M83.9 83.1h0M82.8 83.1h0M82.7 85.5h0M35.3 36.7h0M37.7 37.6h0M37.2 35.9h0M37.4 36.6h0M36.9 35.3h0M40.2 33.5h0M39.4 33.6h0M39.5 33.6h0M37.5 34h0M51.6 24h0M51.4 23.6h0M50.3 24.7h0M51.7 23h0M53.2 24.1h0M53.9 24.7h0M52.7 24.6h0M53 22.4h0M53 22h0M104.5 96.8h0M103.8 94.8h0M106.4 94.3h0M107.2 92.5h0M108.4 90.9h0M107.2 90.8h0M107.6 89.9h0M108.4 90.1h0M67.9 117h0M67.8 117.1h0M67.4 119.6h0M68 118.8h0M66.9 119.4h0M67.2 118.8h0M66.7 121.1h0M67.7 120.1h0M66.3 121h0M67.3 120.4h0M67.6 119.6h0M120.6 100.5h0M121.8 99.5h0M121.9 99.4h0M124 100.3h0M121.8 100.4h0M88.8 48.4h0M88.1 50h0M86.6 50.2h0M86.5 50.5h0M86.7 49.3h0M84.4 48.3h0M84.2 49h0M84.4 49.6h0M85.9 48.4h0M85.6 49.6h0M84.4 47.7h0M83.8 46.7h0M57.3 76.7h0M56.9 76.1h0M57.9 75.1h0M57.6 74.1h0M57.1 74h0M58.5 74.6h0M59.6 76.5h0M61.2 78.3h0M60.8 78.4h0M60.2 78h0M58.7 78.6h0M58.8 78.3h0M95.4 30.7h0M94.2 30.5h0M95 26.4h0M95.3 26h0M41.9 81.3h0M40.6 81h0M141.1 25h0M139 24.6h0M139.7 24.3h0M100.7 95h0M100.2 93.5h0M87 58.9h0M86.2 59h0M77.9 19.6h0M78.3 20.9h0M79.7 22.4h0M79.3 20.6h0M77.4 19.9h0M109.8 83.1h0M109.3 82.9h0M111.7 83.6h0M110.6 82.7h0M104.5 42.8h0M104.6 41.2h0M72.7 23.3h0M131.9 45.7h0M132.2 32.4h0M132.2 32.7h0M61.2 57.3h0M61.4 55.9h0M61.6 57.8h0M62.2 58.3h0M61.8 58.7h0M83.3 120.7h0M83.1 120.6h0M83.6 120.7h0M85.2 122.9h0M85.3 123.1h0M83.9 124.7h0M84.6 124.9h0M90.3 41.7h0M77.1 31.2h0M79.2 32.2h0M75.1 32.1h0M76.9 33.2h0M61 68.9h0M59.9 68.7h0M59.3 68.3h0M57.9 69.1h0M58.7 67.2h0M60.3 67.7h0M69.6 75.8h0M67.1 125.3h0M44.5 61.6h0M44.1 62.5h0M43 64.6h0M43 85.2h0M43 86.7h0M82.2 24.2h0M83.6 25.2h0M83.4 24.6h0M83.7 23.3h0M120.7 25.4h0M118.4 24.7h0M117.7 24.9h0M55.1 17.3h0M54.6 15.7h0M50.9 27.4h0M51 25.5h0M103.9 113.7h0M103.2 113.8h0M103.1 113.2h0M61 66.6h0M60.8 66.8h0M29.7 42.9h0M121.1 45.3h0M121.5 45h0M121 46.1h0M123.9 43.1h0M125.6 41.3h0M124.2 41.7h0M124.7 40.8h0M125.4 42.4h0M65.6 54.4h0M63.6 53.6h0M62 54.6h0M64.7 55.5h0M68.7 97.6h0M71 95.6h0M34.3 21.7h0M32.5 21.7h0M31.9 22.1h0M56.8 44.9h0M58.2 43.4h0M58.1 43.1h0M126.2 116.9h0M126.8 118.1h0M126.4 117.6h0M126.7 118h0M127.2 118.2h0M126.9 119h0M127.3 119.7h0M123.4 120.2h0M79.2 49.1h0M42 116.2h0M56.9 21.6h0M115.4 83.3h0M43.6 113.1h0M46.1 112.6h0M45.8 113.9h0M43.5 113.6h0M44.3 112.9h0M43.9 113.5h0M45.3 112.9h0M46 112.4h0M138.7 120.3h0M139.1 119.5h0M137.2 120.1h0M136.7 121h0M136.5 118.6h0M71.2 116h0M70 116h0M70.4 117.6h0M72.1 116.6h0M72.3 114.3h0M33.8 67.4h0M133.5 39.6h0M134 39h0M135.3 40.1h0M133.9 39h0M135.6 38.6h0M59.7 59.8h0M60.1 59.6h0M57.8 59.1h0M57.8 59.2h0M58.1 59.4h0M131.8 93.4h0M132 93.5h0M132.5 93.3h0M132.4 95.7h0M132.7 95.5h0M48.8 97.3h0M48.6 97.2h0M48.3 98.1h0M49 98.6h0M118.7 66.1h0M118.6 66.4h0M41.1 100.9h0M42.5 101.8h0M43.8 103.2h0M43.4 102.8h0M41.1 102.1h0M41.4 101.8h0M40.6 101.7h0M140.6 21.1h0M141.1 20h0M32 25.4h0M102.5 123.3h0M102.7 123.1h0M103.5 123.2h0M71.3 68.6h0M72.1 67.8h0M71.8 67.9h0M72 68.7h0M47 89.8h0M47.9 88.1h0M48 87.3h0M47.8 88.4h0M48.5 88.5h0M50.7 111.8h0M48.5 112.7h0M76.5 53.9h0M76.3 53.1h0M97 34.8h0M96.9 36.1h0M95.6 37.8h0M94.9 36.7h0M95.5 36.6h0M93.8 37.5h0M94.4 38.9h0M94.1 39.2h0M93.6 38.4h0M82.1 109.8h0M101.9 30.4h0M129.1 71.5h0M81.2 109.3h0M120.1 47.4h0M82.6 106.2h0M82.2 106.1h0M83 105.6h0M76 34.7h0M77 34.3h0M76.9 35.2h0M77 35.1h0M76.7 36h0M75.7 34.5h0M96.7 37h0M96.3 39.5h0M97.2 37.5h0M98.4 38.3h0M136.2 72.4h0M137.7 71h0M139.2 70.6h0M140 70.7h0M117.4 119.1h0M117.2 118.4h0M116.6 117.1h0M116 119.1h0M87.7 108.7h0M88 109.1h0M88.3 108.3h0M88.2 108.9h0M88.2 108.3h0M78 47h0M77.4 47h0M77.4 46.5h0M58.7 95.4h0M58.5 94.4h0M57.9 93.7h0M106.1 60.1h0M104.4 58.5h0M104.3 58.5h0M104.1 58.2h0M105.1 60.2h0M57.8 17.8h0M60.1 18.2h0M62.4 18.2h0M61.3 18.6h0M61.1 19.3h0M59.3 18.9h0M60.5 18.2h0M46.1 71.3h0M46.4 70.3h0M47.3 72.1h0M47.1 72.3h0M37.7 63.1h0M37.5 62.7h0M38.1 64.1h0M36.9 63.4h0M36.5 63.2h0M35.3 62.3h0M38.1 62.7h0M37.7 62.2h0M38.8 61.6h0M39.2 61.4h0M38.4 61.1h0M119.4 20.9h0M119 20.5h0M48.3 110.9h0M46.9 112h0M134.2 41.8h0M133.5 42h0M45.2 112.7h0M45.5 112.4h0M31.3 118.9h0M31.1 118.9h0M31.1 118.2h0M62.3 47.8h0M62.9 49.2h0M62.9 48.2h0M63.1 48.3h0M62.3 48.6h0M51.2 16.5h0M49.4 17.1h0M49.3 16.4h0M78.2 38.9h0M78.2 39.5h0M87.1 79.7h0M87.8 79.8h0M85.6 81.8h0M84.4 80.4h0M87.4 81.2h0M87.7 81.7h0M82.8 33.1h0M82.5 31.8h0M82.2 33h0M82.6 32.1h0M81.8 32.9h0M81.8 33h0M81.6 32.3h0M38.4 112.8h0M37.7 112.1h0M140.8 69.8h0M138.5 68.6h0M135.9 49.3h0M135.6 49.8h0M136 50.2h0M137.9 49.6h0M93.4 69.9h0M93.2 69.9h0M94.3 71.6h0M54.1 102.7h0M57.5 101.8h0M57.3 100.8h0M58.7 102h0M58.7 101.4h0M58.5 101.2h0M45.4 128.3h0M44.7 127.4h0M42.6 130h0M117.7 34.4h0M117.6 35h0M117.1 32.8h0M116.7 34.1h0M104.1 103.2h0M103.5 102.4h0M102.2 102.5h0M101.9 102.4h0M101.2 102.8h0M33.1 97.9h0M31.9 94.9h0M32.3 94.7h0M31.9 94.1h0M33.3 92.7h0M33.6 93.2h0M34.1 90.7h0M34.9 92.3h0M33.8 92.9h0M111.8 22.6h0M64.5 86.5h0M64.3 87.8h0M63.4 88.9h0M91.6 90.1h0M90.1 88.5h0M115.2 79.5h0M114.1 78.4h0M120.7 70.2h0M122.2 71.1h0M49.2 88.2h0M48.1 87.5h0M48.1 87.7h0M72.5 78.9h0M70.4 79h0M71.6 79.6h0M71.3 78.1h0M70.5 81.7h0M70.6 81.7h0M70.7 80.9h0M71.4 81.3h0M93.5 81.5h0M93.3 81.8h0M94 83.7h0M41.8 31.1h0M92.2 117.2h0M90.8 117.4h0M90.5 117.5h0M89.2 116.6h0M88.7 117.6h0M88.2 115.6h0M88 114.8h0M86 115.9h0M91 77.4h0M92.7 77h0M92.6 77.2h0M96.5 49.8h0M97.4 50.2h0M70.8 55.2h0M61.9 41.9h0M71.1 80.4h0M69.5 81.3h0M69.1 81.7h0M68.9 80.6h0M73.6 82.6h0M74.1 80.5h0M80.5 37.1h0M82.8 35.8h0M75 93.6h0M74 92.8h0M73.2 93.1h0M72.6 92.5h0M73.7 92.6h0M72.8 89.6h0M71.5 91h0M119 15h0M120.1 15.1h0M120.2 15.1h0M121.4 14.9h0M116 22.4h0M128.6 76h0M74.1 113.4h0M41.8 75.7h0M64.4 76.5h0M64.6 75.1h0M65 76h0M64.1 77.1h0M62.2 75.8h0M62.6 76.3h0M114.9 34.2h0M116 34.5h0M117.5 94.2h0M117.6 94.6h0M118.6 93.9h0M118.9 94h0M117.9 93.6h0M119.1 94.2h0M119.1 95.3h0M119.4 92.4h0M119.1 91.4h0M120.9 90.7h0M71.5 19.9h0M69.5 20.6h0M66.7 29.5h0M67 28.9h0M114.4 61.1h0M112.1 59.7h0M59 16.1h0M60.2 14.7h0M60.3 14.4h0M60.4 14.9h0M124.7 122.1h0M124.1 120.6h0M124.6 121.4h0M124.7 121.5h0M124.7 124.6h0M84 129.3h0M40.4 54.5h0M60.9 99.6h0M59.6 98.9h0M57.2 99h0M57.9 98.7h0M71.9 105.2h0M71.6 103.9h0M35.7 123h0M33.4 122.7h0M34 122h0M32.6 122.3h0M67 31.1h0M66.9 30.8h0M68.9 32.5h0M67.9 30.9h0M103.7 97h0M104.6 96.4h0M42.1 108.1h0M43.1 105.7h0M41.7 106.9h0M41.5 107h0M41.1 106.6h0M79.3 83.4h0M79.8 83h0M78.9 84.8h0M78.9 84.4h0M67.6 54.7h0M67.8 54.7h0M67.3 55.3h0M66.3 55h0M46.1 32h0M46 31.5h0M45.9 32.3h0M45.9 31.5h0M44.7 31.8h0M45.2 31.7h0M45.9 32.4h0M45.2 33.4h0M46.3 33.6h0M46.7 37.8h0M58.5 57.5h0M60 57.3h0M58.2 57h0M58.5 58.2h0M59.1 57.5h0M59.5 57h0M58.8 56.8h0M58 56.1h0M73.7 81.9h0M119 80.5h0M118.5 78.7h0M130.7 110.6h0M132.6 110.1h0M130.2 109.8h0M113.3 91.6h0M111.8 91.8h0M132.8 102.2h0M132.5 101.2h0M132.4 102.2h0M47.2 90.9h0M47.9 92.5h0M46.9 91.9h0M46.8 90.8h0M47.3 89.4h0M30.3 28.7h0M54 29h0M54.3 27.8h0M54.8 27.2h0M54.4 26.9h0M54 25.5h0M54.4 26.2h0M53.3 41.7h0M51.8 37h0M50.6 37.6h0M90.2 124.8h0M90.1 125.3h0M88.6 64.4h0M89.6 65.3h0M89.1 65.9h0M88.3 64h0M130.3 29.1h0M131.2 29.4h0M130.1 29.4h0M130.3 30.1h0M122.6 94.4h0M122.9 94.1h0M40.9 105.5h0M41.7 107h0M43.1 107.2h0M67.2 85.2h0M67.2 84.3h0M67.1 85.2h0M67.2 85.3h0M65.7 85.2h0M65.7 84.7h0M129.8 74.3h0M129.7 75.3h0M127.3 75h0M127.6 74.3h0M128 75.6h0M38.5 112.1h0M39.4 115.1h0M62.9 41.8h0M62.6 40.6h0M31.5 110.2h0M32.2 112.4h0M33.6 112.5h0M50.7 110.3h0M50.7 109.9h0M51.2 109.7h0M118.4 18.8h0M119.2 18.1h0M74.3 100.2h0M73.3 100h0M39.4 69h0M58.1 19.2h0M59.5 19.5h0M57.8 21h0M59 21.9h0M59.3 21.7h0M55.2 34.8h0M54.3 34.6h0M55.5 32.8h0M56.4 32.4h0M55.9 32.4h0M55.5 34.1h0M120.9 27.4h0M121.7 26.2h0M119.7 26.7h0M45.1 45.3h0M46 43.9h0M45.6 44.2h0M45.8 44.1h0M36.5 121.8h0M35.9 123.3h0M96.8 126.3h0M96.3 126.7h0M96.2 126.1h0M96.2 126.7h0M60.9 32.3h0M61 30.9h0M62.1 32.3h0M35.6 87.8h0M127.4 21.6h0M126.8 20.2h0M128 21.3h0M127.4 22.9h0M128.2 20.4h0M126.9 20.3h0M128 20.8h0M61.6 49.6h0M60.4 49.5h0M60.2 49.5h0M61.3 51.1h0M60.6 50.5h0M60.4 50.3h0M61.4 50.8h0M80.1 47.5h0M79.7 48.3h0M143.8 20.4h0M145.1 19.8h0M145.4 20.3h0M145.5 19h0M146.2 19h0M122.2 124.5h0M122.7 124.6h0M124.1 100.8h0M121.7 101.9h0M69.6 63.9h0M67.9 63.8h0M89.4 33.9h0M90.6 33.5h0M91.1 34.9h0M91.6 34.7h0M91.8 34h0M112.4 89.2h0M112.6 89.3h0M114.3 88.3h0M84.5 39.8h0M84.4 40.7h0M84.8 40.5h0M35.6 81.4h0M66.7 71.4h0M65.9 72.8h0M66.1 72.6h0M67.2 72h0M67.5 72.3h0M67 72.9h0M66 71.8h0M65 71.9h0M67.7 69.7h0M74.7 124.2h0M41.9 89.7h0M41.5 89.9h0M71.6 73h0M71.6 72.6h0M124.8 64.3h0M124.6 63.2h0M125.7 63h0M125.9 63.2h0M66.2 16.1h0M46.8 87.5h0M45.8 87.5h0M105.8 126.2h0M105.7 74.8h0M104.8 74.6h0M46.3 74.9h0M43.9 76.1h0M44.6 76.2h0M46.9 76h0M45.7 75.8h0M96.6 29.3h0M99.3 28.9h0M98.6 28.1h0M100.9 26.6h0M130 98.1h0M92.5 86h0M93.1 85.9h0M51.8 55.8h0M51.2 56.2h0M50.3 56.8h0M49.7 56.8h0M51.6 57h0M51.7 58.4h0M52.5 58.3h0M52.3 58h0M75 79.8h0M69.9 68.3h0M69.9 67.9h0M69.2 66.8h0M36.6 107.1h0M37.1 107.2h0M36 105.1h0M36.6 105.2h0M36.4 104.8h0M35.9 105.5h0M35.8 106h0M37.3 106.2h0M37.7 106.6h0M35.9 107.4h0M88.3 54h0M87.1 54.2h0M87.1 53.1h0M86.8 52.5h0M87.1 54.3h0M86.5 53.5h0M97.5 49.9h0M96.8 50.7h0M41.4 16h0M82.7 120.8h0M81.7 121.6h0M44.6 72.4h0M43.8 71.5h0M45.1 71.4h0M45.5 71.1h0M43.3 70.6h0M42.6 70.7h0M43.3 70.4h0M103.4 109.4h0M103.2 110h0M63.1 65.2h0M89.1 122.1h0M70.3 53.3h0M81.4 123.2h0M104 74.7h0M106.3 115.4h0M56.4 89.8h0M61.6 75.4h0M63.3 100.6h0M128.2 78.4h0M38 106.4h0M43.5 62.8h0M44.2 36.6h0M91.9 64.9h0M67.5 34.7h0M101.6 92.2h0M86.4 73.8h0M41.7 62.7h0M137.7 20h0M72.8 111.6h0M43.2 81.1h0M139.8 55h0M77.2 43.4h0M72.8 35.8h0M111 54.5h0M132.7 17.2h0M40.5 75.4h0M43.1 30.6h0M106.2 48.6h0M126.4 76.9h0M139.4 105.3h0M104.5 89.3h0M137.1 50h0M104.9 66.2h0M105.1 59.2h0M64.4 51.4h0M58.2 70.2h0M58.1 54.5h0M121.1 82.4h0M129.6 56.1h0M49.4 29.9h0M118.9 102.3h0M136.5 31.1h0M50.8 40.8h0M56.5 95.1h0M102.9 44.2h0M87.1 72.2h0M44 46.9h0M66 34.9h0M139.7 98.2h0M87.4 61.2h0M78.8 99.3h0M70.3 63.6h0M127.2 31h0M89.8 60.7h0M61.6 86.9h0M76.8 27h0M101.5 114.5h0M77.1 113.3h0M50.2 41.7h0M104.7 77h0M137.9 67.7h0M83.8 85.2h0M139.3 41.1h0" stroke="#b6b6b6" stroke-width="1.15" stroke-linecap="round" fill="none" opacity="0.8"/>
<path d="M72 51.9h0M73.3 53.7h0M71.8 52.1h0M71.4 51.6h0M71.7 53h0M72.3 54.1h0M72.2 53.3h0M71.8 52.4h0M71.4 53.5h0M71.4 53.4h0M69.1 52.9h0M71.4 54h0M71.6 52.7h0M71 49.1h0M71.2 47h0M70.2 48.1h0M71.4 48.5h0M71.7 49h0M73.7 50.3h0M72.2 51.5h0M73.2 52h0M72.2 49.8h0M72.1 50.8h0M71.9 52.8h0M73.2 53.6h0M72 53.4h0M71.9 53h0M73.2 52.1h0M73.6 51.5h0M74.6 52.3h0M74.7 53.1h0M76.9 53.3h0M76.3 54.4h0M77.8 51.9h0M77.8 52.6h0M76.1 53.2h0M74.1 53.4h0M76.2 49.9h0M79.7 50.3h0M80.2 50.1h0M80.1 50.8h0M80 51.5h0M78.3 50.1h0M78.6 49.3h0M90.7 68h0M90.4 66.7h0M89.5 68.5h0M88.8 70.4h0M90 70.5h0M89.9 70.5h0M89.1 71.5h0M91.2 71.2h0M91.3 70.5h0M91.9 71.1h0M95 70.1h0M94.5 70.2h0M95.5 69.7h0M95.4 69.1h0M95 69.4h0M95.4 69.1h0M96 69.9h0M95 72.6h0M94.7 74.1h0M95.2 73.9h0M96.5 73.9h0M93.3 73.6h0M93.8 73.6h0M92.2 73.4h0M92.9 70.9h0M92.6 71.1h0M92.8 71.3h0M92.8 70.8h0M93.2 68.6h0M91.8 69.8h0M92.9 69.7h0M92 69.6h0M92 70h0M91.7 70.2h0M92.4 70.2h0M92.5 71.4h0M90.9 71h0M90.2 69.8h0M90.8 69.1h0M89.6 71.5h0M90.4 72.2h0M90.6 68.9h0M92.1 65.8h0M91.8 65.3h0M92.3 65.6h0M91.5 64.6h0M79.6 34.6h0M80 34h0M80.7 35.6h0M82.4 35h0M84.4 32.7h0M82.8 32.4h0M84 32.9h0M84 34.4h0M83.3 35h0M83 32.5h0M81.6 35.3h0M81.8 35.7h0M82.6 35.1h0M83.5 36.7h0M83.7 37h0M84.1 38.4h0M85 37.2h0M83.9 37.5h0M82.8 37.2h0M81.9 39.4h0M81.1 39.3h0M80 37.9h0M79.7 35.7h0M78.6 35.8h0M81.1 34.9h0M82.3 33.4h0M82.8 34.4h0M81.7 32.4h0M81.4 31.3h0M81.1 30.2h0M82.1 29.8h0M81.8 30.5h0M62.2 32.7h0M63 33h0M64.4 30.1h0M63.6 31h0M63.7 31.8h0M63.1 33.1h0M63.4 32.2h0M64.3 32.5h0M62.8 33.9h0M61.7 35.1h0M61.7 34.7h0M62.6 32.2h0M62.8 34.5h0M64.3 34.4h0M67.1 33.7h0M66.2 34.1h0M65 34.4h0M65.4 34.1h0M64.7 31.7h0M64.9 32.8h0M64.8 33.1h0M66.2 33.6h0M66 33.3h0M100.4 53.9h0M100.6 54.5h0M99.5 53.7h0M99.6 53.8h0M99.1 55h0M99.5 55.6h0M100 57h0M100.5 57h0M99.9 56.5h0M99.6 55.3h0M99.1 55.9h0M99.8 57h0M100.4 54.1h0M100.2 53.2h0M100 54.1h0M100.7 55.5h0M101.7 55.2h0M101.9 56.9h0M101.5 56.7h0M102.5 55.8h0M101.3 56.8h0M101.3 58.1h0M100 56.8h0M101.7 57h0M102.5 57.6h0M101.2 57h0M99.4 55.8h0M99 56.4h0M48.4 51.4h0M49.3 50.6h0M47.6 49.8h0M49.5 51.7h0M49 51.6h0M46.6 48.6h0M46.7 48.7h0M45.6 49.4h0M45.7 49.4h0M46.8 49.6h0M46.8 50.6h0M48.4 52.7h0M49.4 53.4h0M50.8 51h0M52.3 54h0M53.6 54.7h0M52 54.5h0M51.6 54.4h0M53.3 53.3h0M54.7 53.3h0M54.3 52.2h0M53.7 51.7h0M58.5 97.5h0M57.5 96.5h0M60.9 94.1h0M61.2 93h0M61.2 92.7h0M62.3 93.8h0M61.2 95h0M60 97.2h0M58.1 97.1h0M57 97.5h0M57.2 97.4h0M58.9 99.6h0M58.9 99.5h0M57.9 98.8h0M57.3 98h0M57.5 98.6h0M57 100.5h0M56.4 100h0M56 97.6h0M56.6 96.9h0M55.2 97h0M54.8 96.7h0M53.1 97.2h0M53.3 97.8h0M53.1 99.1h0M53.6 98.5h0M54.1 99h0M54.3 100.5h0M55.4 102.6h0M55.4 101.9h0M54.1 101.4h0M54.4 101.5h0M55.4 101.5h0M55.8 99.9h0M53.7 97h0M77.6 100.2h0M77.6 97.6h0M78 97h0M77.5 97.5h0M77 97.7h0M78.5 97.7h0M76.8 99.7h0M78.1 98h0M79.7 98.6h0M83.6 98.8h0M83 98.1h0M83.1 98.3h0M84.3 100.6h0M82.8 99.5h0M81.6 97.7h0M82.1 97.3h0M80.4 97h0M78.6 97.7h0M77.9 97.5h0M77.6 97.9h0M76.1 98h0M76.4 97.5h0M75.3 97.7h0M74.1 96.9h0M73.9 95.9h0M75.3 96.1h0M73.1 95.2h0M70.8 97.4h0M70.6 98.7h0M71.7 97.1h0M69.5 97h0M69.1 97.6h0M68.5 96.4h0M71.6 96h0M73.5 96.4h0M74.8 95.8h0M74.1 94.5h0M74.5 93.3h0M74.2 92h0M74.1 91.2h0M40.8 77.3h0M41 76.3h0M40.9 76.8h0M42.3 76.7h0M42.6 76.1h0M40.6 74.8h0M41.5 74.8h0M42.2 73.7h0M40.6 74.3h0M40.8 74.4h0M42.4 72.8h0M43.9 74.3h0M43.7 72.5h0M43.7 74.1h0M43 73.2h0M42.6 73.6h0M43 72.5h0M43 74.1h0M42.6 74.3h0M43.3 75.7h0M42.1 74.7h0M43.9 77.2h0M40.4 80h0M40.6 78.3h0M45.4 63.5h0M45.5 63.9h0M47.4 63.6h0M47.7 65.6h0M48.8 64h0M50.7 65.7h0M51.1 64.5h0M49.9 64.6h0M49.7 63.8h0M49.4 64.7h0M49.7 64.3h0M48.9 66.7h0M52 68.4h0M49.9 67.6h0M47.8 69.3h0M50.1 68.9h0M49.7 67.2h0M49.6 66.9h0M49.4 65.7h0M49.7 64.6h0M49.8 65.3h0M99.2 111.1h0M97.3 113.3h0M99.9 113.4h0M99 113.1h0M99.2 114.5h0M100 113.7h0M98.9 113.1h0M99.5 111.5h0M98 112.3h0M96.5 111.3h0M97.3 111.6h0M98.2 109.8h0M97.5 110.5h0M98.1 109.6h0M96.3 111.1h0M96.6 110.3h0M96.7 111.2h0M94.4 112.2h0M98.5 109.5h0M97.1 110.2h0M100.1 109.7h0M118.4 25.2h0M118.8 24.5h0M117.3 26.6h0M116.9 27.8h0M117.9 26.7h0M118.1 25.1h0M118 23.5h0M118.4 21.1h0M116.6 20.3h0M115.9 20.1h0M116.5 18.5h0M114.3 20.2h0M115 18.8h0M115.8 21.1h0M107.4 21.7h0M110.3 18.1h0M110.8 18.6h0M109.5 18.7h0M106.7 21.1h0M104.9 22.9h0M106.3 21.1h0M105.3 22.4h0M102.5 21.7h0M102.8 21.5h0M103.2 21.1h0M102.5 21.1h0M102.3 20.2h0M102.7 19.5h0M102.9 18.8h0M103.6 19.6h0M104.8 20.4h0M77.3 23.7h0M76.6 24.2h0M77.3 23.5h0M77.3 24h0M77.4 26h0M77.9 26.5h0M78.6 24.8h0M79 24.1h0M79.8 23.7h0M79.9 27.1h0M78.7 27.3h0M79.5 28.9h0M78.6 28.3h0M77.8 26.3h0M78.1 25.5h0M77.8 24.9h0M76.9 24.4h0M76.1 24.3h0M76.9 24.5h0M32.8 96.7h0M33.2 95.2h0M31.9 95.9h0M32.7 94.8h0M33.4 94.4h0M35.1 97.5h0M34.1 95.6h0M35.5 93.5h0M34.6 93h0M35.7 93.8h0M34.5 94.5h0M34.8 94.5h0M34.6 94.5h0M34 93.2h0M34.9 94.5h0M34.1 94.5h0M34.7 95h0M34 95.5h0M33.7 96.1h0M33.3 94.9h0M33.3 95.7h0M46.7 114.9h0M46.7 114.4h0M46.4 113.8h0M45.6 112.6h0M45.9 111.1h0M46.3 112.5h0M45.8 113.5h0M45.1 112.9h0M46.2 113.4h0M44.3 110.7h0M44.7 111h0M45.9 114.3h0M46.1 114.3h0M46.9 114.7h0M49.5 114.9h0M47.7 114.4h0M46.7 114.9h0M46.1 113.8h0M46.4 114.5h0M44.8 115.6h0M43 116.6h0M130.7 28.3h0M132.3 27.8h0M131.8 26.4h0M133.7 29.6h0M134.1 29.7h0M133.7 29.7h0M129.4 29.6h0M127.7 28.7h0M128.9 26.2h0M129.2 25.9h0M128.4 27.1h0M131.1 27.1h0M133.2 26.9h0M133 27.6h0M131.2 28.2h0M131.4 27.5h0M130.4 44.7h0M128.7 45.4h0M129.9 45.3h0M127.4 45.9h0M128.1 45.9h0M127.9 45.1h0M127.9 46h0M128 47h0M126.8 44.2h0M126.9 42.2h0M128.4 41.8h0M127.7 41.9h0M128 42.3h0M126.4 44.8h0M126.7 45.4h0M111.9 39.7h0M112.2 41h0M116 42.5h0M116.3 41.9h0M112.8 38.9h0M111.3 39.9h0M110.8 39.3h0M112 40.3h0M109.7 39.2h0M111 39.6h0M112.4 40.2h0M122.2 61.1h0M122.8 61.4h0M123.5 61.1h0M123.7 61.6h0M123.3 59.9h0M123.4 59h0M123.6 61.2h0M123 62.8h0M123.2 63.4h0M122.9 65h0M122.9 63.4h0M121.9 66h0M123.1 67.7h0M134.9 83.7h0M134.8 83.4h0M135.4 84.6h0M136 84.9h0M138.6 82.5h0M138.7 81.7h0M139.3 82.1h0M136.9 82.9h0M134.7 83.1h0M134.4 83.7h0M135.9 82.7h0M116 85.3h0M116.4 84.8h0M115.4 84.5h0M115.9 84.3h0M115.7 84.2h0M114.8 82.3h0M113.7 81.2h0M112.7 82.3h0M111.9 83h0M111.1 82.1h0M110.1 82.5h0M111.2 82h0M111.2 81h0M111.3 82.6h0M64.5 70.2h0M64.4 69h0M63.9 69h0M63.6 69.8h0M64.1 70.9h0M64.7 70.2h0M64.5 70.8h0M64.6 69.1h0M64 69.5h0M63.7 69.5h0M65.2 69.3h0M64.4 70.3h0M64.5 69.6h0M63.6 69.5h0M84.2 80.6h0M83.7 80h0M82.2 77.3h0M82.9 78.3h0M83.8 78.8h0M83.9 81.7h0M82.9 81.6h0M84.5 82.5h0M81.9 84.2h0M82.8 85.9h0M82.5 86.2h0M81.7 86.7h0M82.1 85.7h0M82 83.9h0M36.5 33.9h0M35.1 36.2h0M38 37h0M36.4 36.8h0M37.8 33.6h0M37.5 33.9h0M36.5 34.9h0M36.6 36.1h0M37.2 35.7h0M37 35h0M39.5 33.7h0M39.7 34.5h0M36.4 33.5h0M36.8 33.9h0M50.7 23.2h0M49.9 24.2h0M52.2 22.8h0M53.3 24.6h0M51.6 24.4h0M50.8 25h0M52.2 24.6h0M52.3 24.4h0M53.2 24h0M53.4 22.9h0M52.9 22.4h0M52 23.2h0M51.5 25h0M52.5 25.5h0M52.6 26.6h0M103.4 96.8h0M103.9 93.6h0M104.3 94.8h0M105.1 93.6h0M106.1 94.5h0M105.6 95h0M108 92h0M108.4 90.4h0M69.1 118.7h0M69.4 117.9h0M69 118.2h0M68.1 118.5h0M67.8 120.1h0M66.9 119.8h0M67 120.9h0M66.2 119.3h0M63.7 119.1h0M65.5 121.2h0M121.7 99.8h0M123.4 99.3h0M122.3 101h0M121.9 99.6h0M121.1 99.4h0M122.4 99.3h0M122.8 98.2h0M121.1 99.8h0M88.3 49.3h0M88.8 49.6h0M88.8 49.7h0M89.2 51.4h0M85.8 47.9h0M84.7 49.4h0M84.2 49.2h0M84.1 48.6h0M85.7 49.9h0M84.7 49.2h0M84.2 45.9h0M55.5 76.8h0M57.6 75.2h0M58.2 74.9h0M58.6 75.5h0M61 76.4h0M59.9 77.6h0M60 78.3h0M58.9 77.9h0M95.7 27.9h0M94.5 30.3h0M95.3 30h0M94.6 30.2h0M94.9 31h0M94.8 31.5h0M94.1 29.9h0M94.1 31h0M93.5 28.7h0M93.6 26.7h0M94.9 26.4h0M41.6 80.2h0M42.1 79.9h0M40.6 80.5h0M140.5 24.6h0M139.9 23.9h0M138.8 24h0M101.5 93.5h0M87 58.9h0M78.7 21.7h0M80.5 20.7h0M78 19.8h0M77.5 19.8h0M77.5 18.7h0M77.2 18.4h0M76.8 18.6h0M109.4 81.8h0M110.1 82h0M111.2 81.3h0M112 81.8h0M111.7 82.4h0M112.4 83.5h0M112.5 85.2h0M111.8 84.4h0M110.7 83.4h0M110.5 82.6h0M109.7 82.5h0M104.4 40.6h0M63.3 60.6h0M62.6 59.7h0M61.9 58.7h0M131.1 46.9h0M132.5 47h0M132.7 48.4h0M131.8 33h0M132.8 33.2h0M133.7 32.9h0M135 34.3h0M61.5 57.6h0M84.3 120.1h0M85 120.4h0M83.4 121.8h0M85.1 121.9h0M84.5 121.7h0M85.1 124.6h0M90.8 38.5h0M89.7 39.9h0M90 40.5h0M78 30.5h0M79.1 31.4h0M77.4 32.1h0M74.9 31.7h0M76.5 31.3h0M57.2 67.7h0M57.9 67.5h0M65.9 126h0M65.9 125.3h0M42.4 85.9h0M43 85.8h0M41.8 85.8h0M42.6 85.1h0M30.8 35.5h0M31.8 34.7h0M31.8 34.9h0M82.3 24.5h0M82.7 24.7h0M83.2 24.1h0M119.6 25.1h0M119.9 26.6h0M53.9 16.5h0M54.3 17h0M51.9 28.6h0M51.1 27.9h0M50.7 26.6h0M51 25.9h0M103.9 112.1h0M103.9 112.2h0M103.6 113.5h0M59.7 66.6h0M30.3 39.5h0M121.2 45.6h0M122.2 44.5h0M125 41.4h0M64.4 53.7h0M63.3 54.3h0M64.6 56.1h0M71.8 97.9h0M69.9 97.6h0M70 97.1h0M34 21.5h0M33.1 20.5h0M32.4 21.1h0M57 43.4h0M128.5 117.8h0M126.8 115.7h0M125.4 120.3h0M123.3 119.9h0M78.2 50.2h0M41.4 116.5h0M98.3 80h0M96.7 81h0M57.5 21.2h0M116 83.5h0M115.8 83h0M45.8 112.2h0M45.6 113.6h0M138.2 120.4h0M138.1 119.5h0M138.5 120.6h0M135 120.4h0M135.2 118.8h0M71.3 115.2h0M70.4 117h0M72.9 116.5h0M71.7 114.9h0M73.1 114.1h0M34.2 67.2h0M35.1 68.3h0M134.2 40.3h0M135.6 39h0M135.4 38.5h0M58 60.4h0M56.3 58.7h0M92.4 38.2h0M93.3 39h0M92.2 38.4h0M131.8 93.3h0M131.9 93.8h0M47.7 98.9h0M50.4 99.5h0M117.6 66.7h0M118.2 66.3h0M119.2 65.4h0M42.1 100.5h0M42.5 101.9h0M43.8 103.8h0M43.5 102.9h0M141.6 21.4h0M30.1 25.5h0M102.4 122.9h0M101.8 123.6h0M102.9 123.5h0M71.7 69.2h0M71.8 69.8h0M71.2 68.9h0M72.2 67h0M71.1 67.6h0M72.1 68.6h0M71.7 69.3h0M70.8 69.7h0M48.4 87.8h0M49.2 88.5h0M48.4 88.8h0M48.4 88.5h0M51.6 112.3h0M50.9 111.9h0M51.1 111.6h0M76.7 53.1h0M96.9 35.1h0M94.7 36.9h0M95.6 37.3h0M96.1 37.3h0M94.7 36.4h0M93.7 38.5h0M83.2 109.5h0M82.7 108.7h0M126.7 70.4h0M130.2 71.2h0M80 109.1h0M121.2 47.7h0M82.8 104.3h0M75.5 34.8h0M77.5 33.8h0M76.9 35h0M75.8 35h0M97.9 37.4h0M97 37h0M97.2 38.3h0M96.7 39.4h0M96.8 40.3h0M95.9 39.2h0M95.9 38.7h0M98.3 38.9h0M97.4 39h0M136.1 73h0M137 71h0M137.2 70.7h0M140.7 71.6h0M141.2 71.3h0M141.6 71.4h0M140.9 71.5h0M141.2 72.9h0M141.5 72.4h0M117.1 118.3h0M116.6 118.4h0M116.3 118.6h0M117.1 118.3h0M116.3 117.8h0M88.1 109h0M88.5 109.2h0M88.3 108.7h0M88.9 108h0M78.3 47h0M78.2 47h0M58.3 94.9h0M57.4 94.4h0M106.4 57.8h0M105 59.7h0M105.3 56.8h0M105.1 58.3h0M103.5 59.6h0M104.7 59.1h0M57.8 18.5h0M61.1 19.2h0M62.2 19.3h0M47.3 72.3h0M46.9 72.1h0M47.6 71h0M47 70.7h0M46.6 71.6h0M37.1 64.8h0M37.3 62h0M119.2 19.7h0M119.2 20.9h0M119.8 20.7h0M133.5 43.2h0M134 43h0M45.6 112.3h0M45 113.5h0M46 113h0M30.8 119.4h0M63.1 48.5h0M51.5 15h0M49 16.3h0M77.2 40h0M78.6 38.7h0M88 80.7h0M87.7 80.3h0M85.8 81.6h0M85 81.6h0M85.2 80.7h0M85.9 81h0M85.4 81h0M82.5 31.6h0M82.3 32.4h0M36.9 112.2h0M140.8 68.7h0M140.9 68.6h0M139.5 68.6h0M138.6 68.4h0M138.6 67.9h0M139.2 69h0M135.8 49.4h0M135.9 50.5h0M137.7 50h0M93.5 70.8h0M56 73.9h0M56.5 75h0M56.8 102.9h0M59.6 102.8h0M59 100.2h0M59 99.7h0M58.1 99.9h0M58.7 99.1h0M40.5 129.8h0M117.1 34.9h0M115.1 34.6h0M114.3 34.6h0M115.5 35.2h0M116.3 34.8h0M117.2 34h0M33 97.7h0M32.7 96.4h0M33.9 92.2h0M33.8 92.1h0M112.6 23.4h0M111.7 22.8h0M63.5 89.6h0M89.4 92.3h0M91.8 90.9h0M92 90.2h0M115 79.7h0M121.7 69.1h0M120.6 70.4h0M121.1 71.5h0M121.8 70.5h0M49.6 89.2h0M48.6 89.2h0M48.2 87.4h0M70.7 79.2h0M71.5 78.4h0M70.7 79.4h0M71.1 79.4h0M72 80.9h0M95.2 84h0M42.4 30.7h0M90.9 117.2h0M90.9 117.3h0M90.1 117.2h0M90 76.3h0M90.4 76.8h0M92.4 77.2h0M95.6 50h0M96.2 51.4h0M61.7 41.8h0M71.5 82h0M73.5 83.5h0M74.7 80.1h0M79.5 36.5h0M81.3 36.1h0M81.6 35.8h0M82 35.4h0M82.7 35.6h0M75.5 95.1h0M75.3 94.3h0M75.2 93.2h0M71.8 92.9h0M74 91.5h0M73.4 91.4h0M73.7 92.2h0M70.7 91.6h0M122.3 15.1h0M120.9 14.4h0M115.8 22.7h0M128.2 75h0M127.9 74.2h0M127.2 72.4h0M126.9 72.4h0M72.7 112.9h0M73 113.5h0M73.6 113.5h0M72.4 113.9h0M42.1 77h0M42.6 76h0M63.4 75.6h0M62.2 75.4h0M64.3 75.4h0M62.7 77.2h0M135.9 67.8h0M135.4 66.8h0M116.9 33.4h0M116.5 34.2h0M115.4 35h0M118.2 94.9h0M119.4 94.4h0M119.3 93.2h0M70.1 19.3h0M68.5 21.4h0M69.2 22.6h0M68.9 29.4h0M113.4 58.4h0M113.8 60.1h0M112.6 60.4h0M111.2 60.6h0M60 14.6h0M59.3 14.9h0M124.1 122.3h0M126.2 121.1h0M124.8 121h0M124.4 123.2h0M125.4 123.2h0M126.4 123.9h0M123.5 127h0M83.6 129.3h0M84.1 128.1h0M40.8 54h0M40 54.4h0M59.2 99.5h0M56.1 97.9h0M57.4 98.1h0M57.8 98.2h0M57.6 98.6h0M72.2 104.7h0M70.4 104.1h0M35.1 122.4h0M32.6 122.4h0M65.9 30.1h0M67.2 31.5h0M68.6 30.2h0M105.3 95.5h0M104.3 96.2h0M106.2 98.5h0M42.2 108.1h0M42 108.2h0M44.1 106.3h0M42.9 107.2h0M42 106.5h0M41.8 106.9h0M41 106.2h0M78.9 82.4h0M68.4 54.5h0M45.7 32.2h0M46.2 31.9h0M45.3 31.9h0M45.2 34.8h0M44.9 35.5h0M47.1 36.3h0M46 35.3h0M44.9 34.7h0M43.2 33.7h0M58.2 57.4h0M59 56.6h0M58.9 56.4h0M57.1 56.2h0M57.3 55.9h0M57.5 56.6h0M72.3 83.7h0M72.7 81.4h0M119.3 81.4h0M131.1 109.8h0M131.3 109h0M112.4 91.6h0M130.5 100.9h0M130.7 101.7h0M132.3 101.1h0M46.5 91.4h0M47.2 91.9h0M47.8 90.7h0M73 70.4h0M73.3 70.9h0M73.2 70.5h0M30.4 29.5h0M30.1 29.6h0M31.1 29.2h0M54.1 28.1h0M54.2 26.3h0M54.4 26.1h0M53.8 25.6h0M53.8 41.5h0M53.6 38.2h0M53.1 36.5h0M50.9 37.2h0M90.5 125.4h0M90.4 125.7h0M88.4 125.1h0M88.2 125.9h0M88 64.4h0M89.6 67.2h0M89.3 66.6h0M88.7 65.8h0M89.4 64.6h0M88.1 64.4h0M128.6 30.8h0M128 27.6h0M128.5 27.2h0M121.5 93.5h0M121.8 95.4h0M123.2 93.7h0M123.7 93.6h0M124.1 93.8h0M123.9 93.8h0M41 106.6h0M43.3 107.1h0M129.5 74.9h0M128.9 74.9h0M130.1 74.8h0M129.3 75.6h0M128.4 73.9h0M128.6 75.4h0M126.9 75.8h0M128.3 74.7h0M139.5 89.2h0M39.2 113.4h0M39.4 113.7h0M38.3 114.5h0M62.2 40.5h0M63 40.6h0M31.3 110.1h0M29.5 111.2h0M33.6 111.9h0M32.8 111.3h0M51.7 110h0M72.9 98.9h0M73.8 99.9h0M40.2 69.5h0M59 19h0M60.1 19.8h0M59.3 19.5h0M60.4 19.9h0M60.3 20.3h0M58.5 19.4h0M58.5 22.8h0M56.2 36h0M55.7 35.6h0M54.4 35.1h0M54 33.4h0M56.8 31.7h0M56.7 33.8h0M55.4 35.4h0M120.2 27.3h0M121.8 25.4h0M120.7 25.9h0M121.6 26.1h0M45.5 45.7h0M45.6 45.1h0M45.4 43.8h0M96.1 125.8h0M96 126.4h0M95.5 126.1h0M95.5 126.1h0M61.5 32.6h0M36 87.8h0M37 87.9h0M128.5 23h0M59.5 50.1h0M61.1 50.5h0M60.5 51.3h0M60.8 52.7h0M60.4 51.6h0M61 49.8h0M60.9 49.6h0M61.3 48.8h0M79.3 47.9h0M143.9 19.7h0M121.3 124.4h0M68.2 63.3h0M89.9 32.3h0M89.1 32.7h0M89.8 33.5h0M90.9 33.7h0M91.7 33.6h0M91.1 35h0M112.4 88.3h0M114.6 89.3h0M115.7 90.8h0M84.6 41.2h0M35 81.1h0M66.8 72.1h0M66.7 71.1h0M74.1 124.2h0M75.9 123h0M78.1 123.3h0M114.6 85.7h0M69 72.4h0M67.8 71.2h0M68.8 70.3h0M42.1 44.8h0M41.8 45h0M42.1 45.1h0M125.8 63.4h0M66.4 15.9h0M47.9 88.7h0M48.5 87.2h0M45.4 87.6h0M45.6 87.8h0M107 125h0M106.4 76.1h0M106.7 76.4h0M44.8 76.3h0M44.1 76.2h0M45.2 75.4h0M45.4 76.3h0M46.1 75.1h0M99 28.2h0M100.5 27.1h0M99.8 27.2h0M131 97.8h0M130.2 97.4h0M92.6 85.3h0M52.3 56.7h0M49.3 57.1h0M52.1 58.2h0M53 57.9h0M73.6 79h0M74.2 77.2h0M69.8 67.8h0M69.1 68.8h0M36.8 105.2h0M35.4 105.2h0M37.5 107.3h0M36.4 107.5h0M89.4 55h0M88 54.2h0M85 52.6h0M86 53.7h0M86.4 53.2h0M86.7 54.1h0M98 48.4h0M96.7 48.8h0M97.5 50.2h0M40.4 15.6h0M82.2 121.5h0M44.7 72.8h0M43.9 71.9h0M45.3 70.5h0M44.9 69.5h0M42.6 71h0M103.1 108.8h0M102 109.1h0M104.3 110.2h0M100.6 50.4h0M87.3 56.1h0M89.5 43.3h0M90.8 42.6h0M76.5 54.8h0M142.1 68.5h0M115.8 30.3h0M66.5 102.1h0M61 62.7h0M98.8 89.7h0M40.6 96.6h0M102.8 82.3h0M131.9 16.2h0M119.2 54.3h0M41.5 95.2h0M75.3 120.9h0M107 51.5h0M117.2 39.5h0M117.3 72h0M84.1 56.6h0M122.7 41.7h0M63.4 88.5h0M93.3 25.5h0M87.6 120.9h0M109 112.6h0M88.7 65.5h0M47.4 75.4h0M133.3 89.4h0M99.2 66.3h0M105.4 73.7h0" stroke="#dedede" stroke-width="1.0" stroke-linecap="round" fill="none" opacity="0.85"/>
</g>
<line x1="110.4" y1="116.9" x2="141.8" y2="116.9" stroke="#e6e619" stroke-width="1.5"/>
<text x="125.8" y="126.6" font-size="7" text-anchor="middle" font-weight="bold" fill="#e6e619" textLength="21" lengthAdjust="spacingAndGlyphs">30 μm</text>
</g>
<g id="panelB">
<text x="161.6" y="14.6" font-size="10">B</text>
<rect x="197.2" y="25" width="109" height="86" fill="#e9eff9" filter="url(#b5)"/>
<rect x="236" y="38" width="58" height="50" fill="#f2f6fc" filter="url(#b6)"/>
<rect x="203" y="30" width="20" height="76" fill="#cfe3f8" filter="url(#b4)" opacity="0.9"/>
<rect x="202.5" y="35" width="22" height="18" rx="5" fill="#5cbcf5" filter="url(#b2)"/>
<rect x="204" y="37" width="20" height="12.5" rx="4" fill="#22a4f1" filter="url(#b3)"/>
<rect x="206" y="41.2" width="16" height="3.4" rx="1.7" fill="#1080e2" filter="url(#b3)"/>
<rect x="203" y="62.5" width="19.5" height="19" rx="5" fill="#62bff6" filter="url(#b2)"/>
<rect x="204" y="64.5" width="17.5" height="13" rx="4" fill="#2ea8f2" filter="url(#b3)"/>
<rect x="205.5" y="70" width="14.5" height="3.2" rx="1.6" fill="#1c98ee" filter="url(#b3)"/>
<rect x="198.6" y="101.2" width="22.4" height="7.8" rx="3.9" fill="#2a80ee" filter="url(#b3)"/>
<rect x="200.2" y="102.6" width="19" height="5" rx="2.5" fill="#08149a" filter="url(#b3)"/>
<rect x="231" y="102" width="33" height="5" rx="2.5" fill="#cfeaf9" filter="url(#b3)"/>
<rect x="232.5" y="103.2" width="30.5" height="2.6" rx="1.3" fill="#86d2f5" filter="url(#b3)"/>
<rect x="273.5" y="101" width="31.5" height="7.4" rx="3" fill="#a8dcf8" filter="url(#b3)"/>
<rect x="274.5" y="102" width="29.5" height="4.8" rx="2.4" fill="#14a6f0" filter="url(#b3)"/>
<text x="177.8" y="44.8" font-size="8.5" text-anchor="end" font-weight="bold" textLength="19.4" lengthAdjust="spacingAndGlyphs" stroke="#000" stroke-width="0.2">60kD</text>
<line x1="179.6" y1="42.2" x2="193.6" y2="42.2" stroke="#000" stroke-width="3"/>
<text x="177.8" y="73.9" font-size="8.5" text-anchor="end" font-weight="bold" textLength="19.4" lengthAdjust="spacingAndGlyphs" stroke="#000" stroke-width="0.2">45kD</text>
<line x1="179.6" y1="71.3" x2="193.6" y2="71.3" stroke="#000" stroke-width="3"/>
<text x="177.8" y="106.6" font-size="8.5" text-anchor="end" font-weight="bold" textLength="19.4" lengthAdjust="spacingAndGlyphs" stroke="#000" stroke-width="0.2">35kD</text>
<line x1="179.6" y1="104" x2="193.6" y2="104" stroke="#000" stroke-width="3"/>
<text x="211.3" y="120.6" font-size="6.3" text-anchor="middle" font-weight="bold" textLength="20.6" lengthAdjust="spacingAndGlyphs" stroke="#000" stroke-width="0.22">Ladder</text>
<text x="247.3" y="120.6" font-size="6.3" text-anchor="middle" font-weight="bold" textLength="32.6" lengthAdjust="spacingAndGlyphs" stroke="#000" stroke-width="0.22">M2e5x VLP</text>
<text x="247.7" y="127.9" font-size="6.3" text-anchor="middle" font-weight="bold" textLength="35.4" lengthAdjust="spacingAndGlyphs" stroke="#000" stroke-width="0.22">Suspension</text>
<text x="290.5" y="120.6" font-size="6.3" text-anchor="middle" font-weight="bold" textLength="32.6" lengthAdjust="spacingAndGlyphs" stroke="#000" stroke-width="0.22">M2e5x VLP</text>
<text x="290.5" y="127.9" font-size="6.3" text-anchor="middle" font-weight="bold" textLength="35.5" lengthAdjust="spacingAndGlyphs" stroke="#000" stroke-width="0.22">(PLGA NPs)</text>
</g>
<g id="panelC">
<text x="321" y="15.8" font-size="10">C</text>
<text x="380" y="17.6" font-size="8.5" font-weight="bold" textLength="83.8" lengthAdjust="spacingAndGlyphs">M2e5x VLP Release</text>
<line x1="347.7" y1="15.8" x2="347.7" y2="107" stroke="#000" stroke-width="0.8"/>
<line x1="344.5" y1="106.6" x2="347.7" y2="106.6" stroke="#000" stroke-width="0.8"/>
<text x="343.9" y="108.3" font-size="4.7" text-anchor="end" font-weight="bold">0</text>
<line x1="344.5" y1="88.5" x2="347.7" y2="88.5" stroke="#000" stroke-width="0.8"/>
<text x="343.9" y="90.2" font-size="4.7" text-anchor="end" font-weight="bold">20</text>
<line x1="344.5" y1="70.4" x2="347.7" y2="70.4" stroke="#000" stroke-width="0.8"/>
<text x="343.9" y="72.1" font-size="4.7" text-anchor="end" font-weight="bold">40</text>
<line x1="344.5" y1="52.4" x2="347.7" y2="52.4" stroke="#000" stroke-width="0.8"/>
<text x="343.9" y="54.1" font-size="4.7" text-anchor="end" font-weight="bold">60</text>
<line x1="344.5" y1="34.3" x2="347.7" y2="34.3" stroke="#000" stroke-width="0.8"/>
<text x="343.9" y="36" font-size="4.7" text-anchor="end" font-weight="bold">80</text>
<line x1="344.5" y1="16.2" x2="347.7" y2="16.2" stroke="#000" stroke-width="0.8"/>
<text x="343.9" y="17.9" font-size="4.7" text-anchor="end" font-weight="bold">100</text>
<text transform="translate(332.2 64.3) rotate(-90)" font-size="6.6" text-anchor="middle" font-weight="bold" textLength="70.6" lengthAdjust="spacingAndGlyphs">% Cumulative Release</text>
<line x1="347.7" y1="61.2" x2="487.2" y2="61.2" stroke="#777" stroke-width="0.5"/>
<text x="432.6" y="71.5" font-size="5.9" font-weight="bold" textLength="54.6" lengthAdjust="spacingAndGlyphs">Half-Life of Release</text>
<line x1="347.3" y1="106.6" x2="396.4" y2="106.6" stroke="#000" stroke-width="0.8"/>
<line x1="405.2" y1="106.6" x2="487.2" y2="106.6" stroke="#000" stroke-width="0.8"/>
<line x1="395.2" y1="108.2" x2="398.2" y2="104.4" stroke="#000" stroke-width="0.8"/>
<line x1="403.4" y1="108.2" x2="406.4" y2="104.4" stroke="#000" stroke-width="0.8"/>
<line x1="347.8" y1="106.6" x2="347.8" y2="109.2" stroke="#000" stroke-width="0.8"/>
<text x="347.8" y="115.6" font-size="4.6" text-anchor="middle" font-weight="bold">0</text>
<line x1="357.6" y1="106.6" x2="357.6" y2="109.2" stroke="#000" stroke-width="0.8"/>
<text x="357.6" y="115.6" font-size="4.6" text-anchor="middle" font-weight="bold">2</text>
<line x1="367.4" y1="106.6" x2="367.4" y2="109.2" stroke="#000" stroke-width="0.8"/>
<text x="367.4" y="115.6" font-size="4.6" text-anchor="middle" font-weight="bold">4</text>
<line x1="377.2" y1="106.6" x2="377.2" y2="109.2" stroke="#000" stroke-width="0.8"/>
<text x="377.2" y="115.6" font-size="4.6" text-anchor="middle" font-weight="bold">6</text>
<line x1="387" y1="106.6" x2="387" y2="109.2" stroke="#000" stroke-width="0.8"/>
<text x="387" y="115.6" font-size="4.6" text-anchor="middle" font-weight="bold">8</text>
<text x="396.8" y="115.6" font-size="4.6" text-anchor="middle" font-weight="bold">10</text>
<line x1="405.5" y1="106.6" x2="405.5" y2="109.2" stroke="#000" stroke-width="0.8"/>
<text x="405.5" y="115.6" font-size="4.6" text-anchor="middle" font-weight="bold">24</text>
<line x1="421" y1="106.6" x2="421" y2="109.2" stroke="#000" stroke-width="0.8"/>
<text x="421" y="115.6" font-size="4.6" text-anchor="middle" font-weight="bold">48</text>
<line x1="436.5" y1="106.6" x2="436.5" y2="109.2" stroke="#000" stroke-width="0.8"/>
<text x="436.5" y="115.6" font-size="4.6" text-anchor="middle" font-weight="bold">72</text>
<line x1="452" y1="106.6" x2="452" y2="109.2" stroke="#000" stroke-width="0.8"/>
<text x="452" y="115.6" font-size="4.6" text-anchor="middle" font-weight="bold">96</text>
<line x1="467.5" y1="106.6" x2="467.5" y2="109.2" stroke="#000" stroke-width="0.8"/>
<text x="467.5" y="115.6" font-size="4.6" text-anchor="middle" font-weight="bold">120</text>
<line x1="483" y1="106.6" x2="483" y2="109.2" stroke="#000" stroke-width="0.8"/>
<text x="483" y="115.6" font-size="4.6" text-anchor="middle" font-weight="bold">144</text>
<text x="415.5" y="128.7" font-size="6.7" text-anchor="middle" font-weight="bold" textLength="40.3" lengthAdjust="spacingAndGlyphs">Time (hours)</text>
<polyline points="347.8,106.6 350.2,97.6 352.7,93.9 357.6,93 362.5,88.5 367.4,82.6 372.3,78.1 377.2,73.2 387,68.6 394.8,64.7" fill="none" stroke="#222" stroke-width="0.6"/>
<polyline points="405.5,62.3 421,57.8 436.5,55.1 452,51.5 467.5,44.7 483,41.5" fill="none" stroke="#222" stroke-width="0.6"/>
<line x1="350.2" y1="94.8" x2="350.2" y2="100.3" stroke="#000" stroke-width="0.5"/>
<line x1="349.1" y1="94.8" x2="351.4" y2="94.8" stroke="#000" stroke-width="0.5"/>
<line x1="349.1" y1="100.3" x2="351.4" y2="100.3" stroke="#000" stroke-width="0.5"/>
<circle cx="350.2" cy="97.6" r="0.85" fill="#000"/>
<line x1="352.7" y1="91.7" x2="352.7" y2="96.2" stroke="#000" stroke-width="0.5"/>
<line x1="351.6" y1="91.7" x2="353.8" y2="91.7" stroke="#000" stroke-width="0.5"/>
<line x1="351.6" y1="96.2" x2="353.8" y2="96.2" stroke="#000" stroke-width="0.5"/>
<circle cx="352.7" cy="93.9" r="0.85" fill="#000"/>
<line x1="357.6" y1="90.8" x2="357.6" y2="95.3" stroke="#000" stroke-width="0.5"/>
<line x1="356.5" y1="90.8" x2="358.7" y2="90.8" stroke="#000" stroke-width="0.5"/>
<line x1="356.5" y1="95.3" x2="358.7" y2="95.3" stroke="#000" stroke-width="0.5"/>
<circle cx="357.6" cy="93" r="0.85" fill="#000"/>
<line x1="362.5" y1="86.5" x2="362.5" y2="90.5" stroke="#000" stroke-width="0.5"/>
<line x1="361.4" y1="86.5" x2="363.6" y2="86.5" stroke="#000" stroke-width="0.5"/>
<line x1="361.4" y1="90.5" x2="363.6" y2="90.5" stroke="#000" stroke-width="0.5"/>
<circle cx="362.5" cy="88.5" r="0.85" fill="#000"/>
<line x1="367.4" y1="81.3" x2="367.4" y2="84" stroke="#000" stroke-width="0.5"/>
<line x1="366.3" y1="81.3" x2="368.5" y2="81.3" stroke="#000" stroke-width="0.5"/>
<line x1="366.3" y1="84" x2="368.5" y2="84" stroke="#000" stroke-width="0.5"/>
<circle cx="367.4" cy="82.6" r="0.85" fill="#000"/>
<line x1="372.3" y1="76.8" x2="372.3" y2="79.5" stroke="#000" stroke-width="0.5"/>
<line x1="371.2" y1="76.8" x2="373.4" y2="76.8" stroke="#000" stroke-width="0.5"/>
<line x1="371.2" y1="79.5" x2="373.4" y2="79.5" stroke="#000" stroke-width="0.5"/>
<circle cx="372.3" cy="78.1" r="0.85" fill="#000"/>
<line x1="377.2" y1="72.4" x2="377.2" y2="73.9" stroke="#000" stroke-width="0.5"/>
<circle cx="377.2" cy="73.2" r="0.85" fill="#000"/>
<line x1="387" y1="67.7" x2="387" y2="69.5" stroke="#000" stroke-width="0.5"/>
<line x1="385.9" y1="67.7" x2="388.1" y2="67.7" stroke="#000" stroke-width="0.5"/>
<line x1="385.9" y1="69.5" x2="388.1" y2="69.5" stroke="#000" stroke-width="0.5"/>
<circle cx="387" cy="68.6" r="0.85" fill="#000"/>
<line x1="405.5" y1="60.9" x2="405.5" y2="63.7" stroke="#000" stroke-width="0.5"/>
<line x1="404.4" y1="60.9" x2="406.6" y2="60.9" stroke="#000" stroke-width="0.5"/>
<line x1="404.4" y1="63.7" x2="406.6" y2="63.7" stroke="#000" stroke-width="0.5"/>
<circle cx="405.5" cy="62.3" r="0.85" fill="#000"/>
<line x1="421" y1="56.7" x2="421" y2="58.9" stroke="#000" stroke-width="0.5"/>
<line x1="419.9" y1="56.7" x2="422.1" y2="56.7" stroke="#000" stroke-width="0.5"/>
<line x1="419.9" y1="58.9" x2="422.1" y2="58.9" stroke="#000" stroke-width="0.5"/>
<circle cx="421" cy="57.8" r="0.85" fill="#000"/>
<line x1="436.5" y1="52.4" x2="436.5" y2="57.8" stroke="#000" stroke-width="0.5"/>
<line x1="435.4" y1="52.4" x2="437.6" y2="52.4" stroke="#000" stroke-width="0.5"/>
<line x1="435.4" y1="57.8" x2="437.6" y2="57.8" stroke="#000" stroke-width="0.5"/>
<circle cx="436.5" cy="55.1" r="0.85" fill="#000"/>
<line x1="452" y1="49.5" x2="452" y2="53.4" stroke="#000" stroke-width="0.5"/>
<line x1="450.9" y1="49.5" x2="453.1" y2="49.5" stroke="#000" stroke-width="0.5"/>
<line x1="450.9" y1="53.4" x2="453.1" y2="53.4" stroke="#000" stroke-width="0.5"/>
<circle cx="452" cy="51.5" r="0.85" fill="#000"/>
<line x1="467.5" y1="43.3" x2="467.5" y2="46" stroke="#000" stroke-width="0.5"/>
<line x1="466.4" y1="43.3" x2="468.6" y2="43.3" stroke="#000" stroke-width="0.5"/>
<line x1="466.4" y1="46" x2="468.6" y2="46" stroke="#000" stroke-width="0.5"/>
<circle cx="467.5" cy="44.7" r="0.85" fill="#000"/>
<line x1="483" y1="41.1" x2="483" y2="42" stroke="#000" stroke-width="0.5"/>
<circle cx="483" cy="41.5" r="0.85" fill="#000"/>
</g>
<g id="panelD">
<text x="12" y="152.6" font-size="10">D</text>
<g fill="#7a67c7">
<path d="M56 197C53.92 199.33 52.17 201.5 51.5 204C50.83 206.5 51 209.25 52 212C53 214.75 55.17 218.17 57.5 220.5C59.83 222.83 62.92 224.75 66 226C69.08 227.25 72.67 228.25 76 228C79.33 227.75 83.17 226.5 86 224.5C88.83 222.5 91.25 219.25 93 216C94.75 212.75 96.33 208.5 96.5 205C96.67 201.5 95.33 197.92 94 195C92.67 192.08 90.83 189.42 88.5 187.5C86.17 185.58 82.75 184.08 80 183.5C77.25 182.92 74.67 182.92 72 184C69.33 185.08 66.67 187.83 64 190C61.33 192.17 58.08 194.67 56 197Z"/>
<path d="M88.25 191.95 87.86 190.1 87.74 188.4 87.83 186.84 88.11 185.39 88.55 184.06 89.11 182.82 89.76 181.65 90.5 180.55 91.29 179.5 92.13 178.5 93 177.53 93.89 176.58 94.8 175.66 95.72 174.76 A1.61 1.61 0 0 0 93.48 172.44 L92.52 173.38 91.58 174.34 90.64 175.3 89.71 176.28 88.76 177.25 87.79 178.21 86.79 179.15 85.73 180.06 84.59 180.92 83.35 181.72 81.98 182.45 80.45 183.1 78.72 183.63 76.75 184.05Z"/>
<path d="M77.81 183.33 76.6 182.99 75.53 182.61 74.56 182.19 73.69 181.75 72.89 181.29 72.14 180.82 71.43 180.34 70.74 179.85 70.06 179.38 69.39 178.91 68.71 178.46 68.03 178.03 67.33 177.63 66.62 177.26 A1.61 1.61 0 0 0 65.18 180.14 L65.77 180.45 66.36 180.79 66.93 181.16 67.49 181.56 68.03 182 68.54 182.48 69.02 183.01 69.45 183.6 69.83 184.25 70.13 184.97 70.33 185.77 70.43 186.65 70.39 187.61 70.19 188.67Z"/>
<path d="M61.4 199.1 60.1 198.27 59.03 197.35 58.15 196.37 57.45 195.35 56.91 194.3 56.51 193.24 56.22 192.17 56.03 191.1 55.92 190.05 55.89 189.01 55.91 187.99 55.99 186.98 56.11 186 56.27 185.03 A2.31 2.31 0 0 0 51.73 184.17 L51.54 185.33 51.39 186.51 51.28 187.7 51.22 188.91 51.18 190.13 51.15 191.37 51.13 192.63 51.1 193.92 51.04 195.25 50.93 196.63 50.76 198.06 50.49 199.57 50.11 201.18 49.6 202.9Z"/>
<path d="M54.94 199.24 54.22 199.68 53.56 200.01 52.94 200.24 52.36 200.39 51.81 200.47 51.3 200.51 50.82 200.51 50.37 200.47 49.93 200.42 49.52 200.36 49.13 200.29 48.76 200.21 48.41 200.15 48.08 200.08 A1.54 1.54 0 0 0 47.52 203.12 L47.84 203.17 48.17 203.24 48.52 203.31 48.88 203.4 49.27 203.5 49.67 203.63 50.08 203.79 50.5 204 50.93 204.25 51.36 204.57 51.8 204.96 52.23 205.45 52.65 206.04 53.06 206.76Z"/>
<path d="M52.24 206.74 50.78 207.39 49.4 207.95 48.08 208.44 46.8 208.89 45.55 209.3 44.34 209.7 43.15 210.09 41.99 210.5 40.84 210.93 39.72 211.4 38.61 211.91 37.53 212.46 36.47 213.06 35.44 213.72 A1.54 1.54 0 0 0 37.16 216.28 L38.06 215.7 38.99 215.17 39.94 214.7 40.92 214.27 41.92 213.91 42.94 213.62 44 213.41 45.08 213.28 46.18 213.26 47.29 213.36 48.42 213.59 49.55 213.97 50.67 214.52 51.76 215.26Z"/>
<path d="M56.12 215.95 55.57 217.52 54.94 218.91 54.23 220.15 53.46 221.27 52.61 222.31 51.72 223.28 50.78 224.2 49.8 225.1 48.79 225.99 47.75 226.88 46.71 227.78 45.65 228.7 44.58 229.64 43.51 230.61 A1.61 1.61 0 0 0 45.69 232.99 L46.73 232.04 47.77 231.13 48.8 230.25 49.84 229.41 50.88 228.61 51.94 227.87 53.02 227.2 54.13 226.61 55.28 226.12 56.48 225.76 57.73 225.54 59.04 225.49 60.43 225.65 61.88 226.05Z"/>
<path d="M69.97 224.11 71.01 226.05 71.88 227.85 72.61 229.55 73.22 231.16 73.75 232.71 74.22 234.2 74.67 235.66 75.11 237.08 75.57 238.48 76.06 239.85 76.59 241.2 77.18 242.52 77.84 243.81 78.57 245.07 A1.68 1.68 0 0 0 81.43 243.33 L80.8 242.22 80.22 241.08 79.72 239.92 79.29 238.72 78.95 237.49 78.7 236.23 78.58 234.94 78.59 233.63 78.77 232.29 79.13 230.95 79.71 229.62 80.53 228.32 81.62 227.07 83.03 225.89Z"/>
<path d="M84.54 222.44 85.43 222.09 86.25 221.9 87.01 221.85 87.7 221.92 88.34 222.09 88.93 222.34 89.48 222.65 89.98 223.01 90.45 223.41 90.9 223.84 91.32 224.29 91.73 224.76 92.12 225.25 92.5 225.76 A1.61 1.61 0 0 0 95.1 223.84 L94.66 223.27 94.22 222.72 93.77 222.17 93.3 221.63 92.84 221.1 92.38 220.56 91.92 220 91.48 219.43 91.06 218.81 90.67 218.15 90.31 217.41 89.99 216.58 89.7 215.64 89.46 214.56Z"/>
<path d="M87.38 209.14 89.68 209.88 91.73 210.6 93.6 211.31 95.32 212.02 96.93 212.7 98.47 213.37 99.97 214 101.44 214.6 102.92 215.14 104.42 215.62 105.95 216.02 107.5 216.33 109.1 216.55 110.72 216.68 A1.68 1.68 0 0 0 110.88 213.32 L109.46 213.21 108.08 213.02 106.75 212.73 105.46 212.34 104.22 211.85 103.04 211.24 101.93 210.5 100.93 209.61 100.04 208.57 99.3 207.37 98.75 206 98.42 204.46 98.36 202.75 98.62 200.86Z"/>
<path d="M93.5 201.99 93.89 201.11 94.3 200.36 94.74 199.71 95.19 199.15 95.66 198.67 96.15 198.23 96.65 197.84 97.15 197.47 97.66 197.12 98.17 196.78 98.68 196.44 99.18 196.1 99.68 195.75 100.17 195.39 A1.61 1.61 0 0 0 98.23 192.81 L97.8 193.13 97.36 193.44 96.91 193.74 96.44 194.02 95.97 194.28 95.47 194.51 94.95 194.71 94.41 194.87 93.85 194.96 93.25 194.98 92.62 194.92 91.95 194.75 91.25 194.45 90.5 194.01Z"/>
<path d="M89 196.83 89.97 195.65 90.97 194.67 91.98 193.85 93 193.18 94.04 192.62 95.09 192.15 96.14 191.76 97.19 191.42 98.23 191.12 99.28 190.85 100.32 190.6 101.35 190.35 102.37 190.11 103.38 189.86 A1.61 1.61 0 0 0 102.62 186.74 L101.62 186.98 100.61 187.21 99.59 187.44 98.56 187.66 97.51 187.86 96.45 188.02 95.36 188.14 94.26 188.2 93.13 188.19 91.97 188.07 90.79 187.84 89.56 187.47 88.3 186.92 87 186.17Z"/>
</g>
<ellipse cx="76.6" cy="206.4" rx="11.8" ry="9.2" fill="#6051b5" transform="rotate(-8 76.6 206.4)"/>
<circle cx="63.8" cy="189" r="8.0" fill="#fff"/>
<circle cx="50.3" cy="172.2" r="6.8" fill="#d94246" stroke="#a6bcbd" stroke-width="1.15"/>
<path d="M53.69 176.02h0M50.54 169.41h0M46.58 172.31h0M47.44 168.18h0M51.08 172.72h0M52.17 169.07h0M50.32 171.95h0M45.86 173.79h0M51.02 177.55h0M51.09 171.64h0M54.33 172.85h0M53.48 170.92h0M51.05 175.73h0M52.87 172.67h0M46.69 173.69h0M50.58 174.85h0M51.03 175.89h0M50.1 172.99h0M52.46 168.67h0M48.8 170.33h0M55.44 171.96h0M52.62 174.4h0M49.47 167.59h0M53.62 170.8h0M52.49 168.22h0M48.9 176.22h0M54.08 168.76h0M46.04 172.06h0M52.97 172.79h0M51.35 168.78h0M52.21 175.84h0M48.97 167.84h0M47.7 174.81h0M45.41 171.94h0M46.85 171.74h0M49.35 172.26h0M54.78 173.46h0M54.55 171.75h0M48.5 173.62h0M44.8 172.12h0M50.82 168.16h0M52.01 170.14h0M44.9 171.73h0M46.98 170.43h0M49.8 176.28h0M50.7 172.09h0M51.35 167.28h0M53.91 169.07h0M51.75 168.48h0M46.94 170.84h0M55.16 173.99h0M48.05 171.14h0M46.44 172.09h0M48.27 174.76h0" stroke="#fde9e9" stroke-width="0.95" stroke-linecap="round" fill="none" opacity="0.85"/>
<circle cx="71.3" cy="167.8" r="6.8" fill="#d94246" stroke="#a6bcbd" stroke-width="1.15"/>
<path d="M76.5 166.33h0M72.82 168.36h0M73.74 163.71h0M69.81 165.1h0M67.9 165.13h0M69.37 166.72h0M68.14 169.27h0M70.37 162.34h0M75.19 166.52h0M68.6 168.78h0M72.2 168.01h0M68.24 168.49h0M67.48 171.39h0M67.2 167.13h0M71.37 168.65h0M70.37 169.63h0M65.77 167.44h0M70.22 165.69h0M75.19 164.73h0M70.78 162.54h0M71.7 162.88h0M67.96 172.17h0M73.46 167.27h0M71.42 163.11h0M67.38 168.77h0M65.97 168.14h0M66.24 167.77h0M68.13 171.94h0M74.34 165.58h0M66.45 165.6h0M70.66 163.98h0M71.86 170.91h0M70.6 165.65h0M73.71 166.23h0M73.92 166.17h0M75.8 166.56h0M67.31 167.69h0M68.83 164.34h0M70.34 170.14h0M65.95 167.4h0M70.21 166.73h0M73.32 163.53h0M73.33 166.47h0M71.26 166.46h0M69.64 165.42h0M72.06 172.94h0M74.45 170.28h0M72.97 165.62h0M72.58 172.85h0M67.14 169.99h0M74.57 168.46h0M73.45 171.81h0M76 170.5h0M75.98 168.55h0" stroke="#fde9e9" stroke-width="0.95" stroke-linecap="round" fill="none" opacity="0.85"/>
<circle cx="37.2" cy="190.3" r="6.8" fill="#d94246" stroke="#a6bcbd" stroke-width="1.15"/>
<path d="M37.51 194.38h0M34.25 193.45h0M36.2 189.29h0M42.26 190.72h0M37.04 192.98h0M41 190.2h0M39.18 187.02h0M35.82 188.65h0M33.78 186.42h0M32.47 189.61h0M36.53 189.06h0M37.42 186.04h0M36.89 191.23h0M39.73 187.45h0M36.19 185.2h0M36.01 185.11h0M33.28 193.35h0M32.15 192.13h0M38.45 189.1h0M38.9 192.25h0M40.78 189.51h0M35.07 188.12h0M33.76 190.14h0M34.69 193.72h0M32.64 187.64h0M34.98 185.43h0M40.62 185.96h0M36.14 188.33h0M40.69 186.11h0M40.66 187.94h0M36.62 187.82h0M39.26 186.64h0M36.9 191.66h0M40.55 185.91h0M41.42 192.92h0M35.38 191.45h0M35.88 194.98h0M38.01 189.46h0M36.32 189.52h0M36.57 187.17h0M41.23 186.56h0M31.66 190.11h0M36.64 191.73h0M36.4 189.72h0M38.35 193.65h0M35.51 188.9h0M42.19 191.66h0M35.08 195.3h0M39.92 188.24h0M33.32 191.29h0M34.55 186.93h0M33.13 188.71h0M40.88 188.86h0M32.92 192.27h0" stroke="#fde9e9" stroke-width="0.95" stroke-linecap="round" fill="none" opacity="0.85"/>
<circle cx="63.8" cy="189" r="6.8" fill="#d94246" stroke="#a6bcbd" stroke-width="1.15"/>
<path d="M63.96 190.78h0M62.06 190.33h0M67.01 190.43h0M68.12 186.55h0M64.05 186.4h0M60.96 188.33h0M64.64 190.6h0M64.99 194.21h0M66.17 184.62h0M64.56 186.68h0M62.19 193.09h0M63.22 183.9h0M64.99 187.88h0M60.22 186.19h0M61.46 188.91h0M62.16 189.27h0M68.53 186.94h0M60.89 188.1h0M67.33 186.72h0M67.58 185.56h0M60.23 188.81h0M60.84 186.88h0M65.42 191.6h0M64.24 187.93h0M68.01 190.26h0M63.03 192.98h0M60.6 189.58h0M66.25 188.96h0M61.67 190.3h0M61.84 186.84h0M60.84 192.77h0M62.02 192.75h0M65.25 188h0M66.26 190h0M64.21 184.67h0M64.05 192.18h0M65.45 192.38h0M68.27 190.23h0M68.1 185.7h0M63.28 183.59h0M66.76 189.34h0M68.58 187.96h0M59.24 191.88h0M60.15 185.55h0M63.15 191.34h0M61.87 189.7h0M59.79 192.69h0M63.54 189.47h0M66 189.63h0M64.5 185.73h0M63.37 190.67h0M67.39 188.59h0M64.15 190.3h0M65.94 189.78h0" stroke="#fde9e9" stroke-width="0.95" stroke-linecap="round" fill="none" opacity="0.85"/>
<path d="M43.5 221.3 C54 220 62.5 213 62.6 201.5" fill="none" stroke="#111" stroke-width="0.7"/>
<path d="M62.6 198.6 L64.4 202.2 L60.8 202.2Z" fill="#111"/>
<text x="20.5" y="166" font-size="6.4" text-anchor="middle" fill="#1a1a1a" textLength="32" lengthAdjust="spacingAndGlyphs">M2e5x VLP-</text>
<text x="20.5" y="172.4" font-size="6.4" text-anchor="middle" fill="#1a1a1a" textLength="36" lengthAdjust="spacingAndGlyphs">Loaded PLGA</text>
<text x="20.5" y="178.8" font-size="6.4" text-anchor="middle" fill="#1a1a1a" textLength="36.6" lengthAdjust="spacingAndGlyphs">Nanoparticles</text>
<text x="8" y="223.6" font-size="6.4" fill="#1a1a1a" textLength="35" lengthAdjust="spacingAndGlyphs">Phagocytosis</text>
<path d="M105.9 204.4 L126.8 202.6 L126.3 200.5 L134.1 204.4 L126.3 208.3 L126.8 206.2Z" fill="#111"/>
<path d="M198.6 204.3 L219.6 202.5 L219.1 200.4 L226.8 204.3 L219.1 208.2 L219.6 206.1Z" fill="#111"/>
<g fill="#7a67c7">
<path d="M166.6 183.5C169.43 183.42 173.18 183.58 176 184.5C178.82 185.42 181.33 187.08 183.5 189C185.67 190.92 187.95 193.5 189 196C190.05 198.5 190.05 201.17 189.8 204C189.55 206.83 188.97 210.17 187.5 213C186.03 215.83 183.58 218.92 181 221C178.42 223.08 175.17 224.92 172 225.5C168.83 226.08 165 225.42 162 224.5C159 223.58 156.25 221.92 154 220C151.75 218.08 149.67 215.5 148.5 213C147.33 210.5 146.92 207.83 147 205C147.08 202.17 148 198.58 149 196C150 193.42 151.33 191.33 153 189.5C154.67 187.67 156.73 186 159 185C161.27 184 163.77 183.58 166.6 183.5Z"/>
<path d="M183.26 187.38 182.03 185.68 181.13 183.98 180.53 182.3 180.2 180.64 180.1 179.04 180.2 177.49 180.46 176 180.87 174.57 181.39 173.21 182.01 171.92 182.72 170.69 183.5 169.51 184.34 168.39 185.25 167.32 A1.68 1.68 0 0 0 182.75 165.08 L181.72 166.29 180.76 167.56 179.86 168.88 179.02 170.24 178.22 171.66 177.45 173.11 176.69 174.6 175.92 176.14 175.11 177.72 174.23 179.35 173.25 181.04 172.13 182.8 170.84 184.66 169.34 186.62Z"/>
<path d="M184.97 197.12 186.41 195.67 187.75 194.39 189 193.24 190.18 192.19 191.32 191.2 192.41 190.26 193.48 189.33 194.51 188.39 195.51 187.42 196.47 186.41 197.39 185.34 198.26 184.21 199.09 183 199.86 181.73 A1.68 1.68 0 0 0 196.94 180.07 L196.27 181.18 195.55 182.22 194.79 183.18 193.98 184.06 193.12 184.85 192.2 185.54 191.22 186.12 190.18 186.56 189.08 186.84 187.92 186.94 186.72 186.82 185.49 186.46 184.26 185.83 183.03 184.88Z"/>
<path d="M188.53 200.06 188.81 199.32 189.13 198.7 189.48 198.16 189.86 197.7 190.25 197.31 190.66 196.97 191.07 196.67 191.49 196.4 191.91 196.16 192.33 195.93 192.75 195.71 193.17 195.5 193.57 195.3 193.97 195.09 A1.68 1.68 0 0 0 192.43 192.11 L192.05 192.3 191.66 192.5 191.26 192.69 190.85 192.89 190.43 193.07 189.99 193.23 189.53 193.38 189.05 193.49 188.55 193.57 188.01 193.6 187.44 193.56 186.83 193.45 186.18 193.25 185.47 192.94Z"/>
<path d="M181.26 208.62 183.42 209.7 185.37 210.63 187.15 211.45 188.82 212.19 190.4 212.86 191.95 213.47 193.5 214.04 195.08 214.55 196.71 215 198.4 215.39 200.18 215.7 202.03 215.92 203.98 216.05 206.01 216.08 A1.68 1.68 0 0 0 205.99 212.72 L204.12 212.69 202.35 212.57 200.69 212.35 199.15 212.04 197.71 211.62 196.41 211.08 195.25 210.41 194.25 209.61 193.45 208.68 192.88 207.61 192.58 206.43 192.59 205.14 192.96 203.78 193.74 202.38Z"/>
<path d="M179.97 221.03 180.94 220.86 181.81 220.82 182.59 220.89 183.3 221.05 183.95 221.29 184.54 221.6 185.09 221.95 185.61 222.35 186.1 222.77 186.57 223.22 187.02 223.68 187.47 224.15 187.91 224.63 188.34 225.11 A1.68 1.68 0 0 0 190.86 222.89 L190.4 222.38 189.94 221.87 189.48 221.37 189.02 220.87 188.57 220.36 188.13 219.84 187.71 219.3 187.31 218.73 186.95 218.12 186.64 217.46 186.37 216.73 186.18 215.92 186.06 215 186.03 213.97Z"/>
<path d="M164 223.08 165.55 224.63 166.85 226.18 167.94 227.72 168.87 229.25 169.65 230.77 170.33 232.29 170.92 233.79 171.46 235.28 171.96 236.75 172.43 238.21 172.9 239.64 173.36 241.05 173.84 242.43 174.32 243.78 A1.68 1.68 0 0 0 177.48 242.62 L177.01 241.31 176.55 239.98 176.12 238.62 175.71 237.22 175.34 235.79 175.02 234.32 174.78 232.81 174.61 231.26 174.56 229.66 174.65 228.01 174.9 226.31 175.35 224.56 176.04 222.77 177 220.92Z"/>
<path d="M150.47 212.77 150.33 214.61 149.99 216.31 149.49 217.86 148.85 219.31 148.1 220.67 147.24 221.94 146.31 223.16 145.32 224.33 144.28 225.47 143.2 226.59 142.09 227.69 140.96 228.79 139.81 229.88 138.65 230.98 A1.68 1.68 0 0 0 140.95 233.42 L142.12 232.32 143.28 231.22 144.43 230.13 145.58 229.04 146.73 227.98 147.9 226.94 149.09 225.94 150.32 224.99 151.6 224.1 152.95 223.29 154.4 222.58 155.96 221.99 157.66 221.53 159.53 221.23Z"/>
<path d="M151.03 207.97 149.13 208.37 147.35 208.72 145.67 209.03 144.07 209.32 142.53 209.59 141.05 209.88 139.62 210.2 138.23 210.55 136.87 210.96 135.55 211.43 134.27 211.98 133.02 212.6 131.82 213.31 130.65 214.1 A1.61 1.61 0 0 0 132.55 216.7 L133.54 216.03 134.55 215.44 135.6 214.92 136.69 214.49 137.82 214.14 138.98 213.89 140.18 213.75 141.41 213.73 142.67 213.85 143.95 214.12 145.23 214.55 146.51 215.17 147.76 215.99 148.97 217.03Z"/>
<path d="M148.5 202.51 148.09 202.98 147.71 203.36 147.34 203.66 146.99 203.91 146.65 204.1 146.32 204.25 146 204.38 145.69 204.48 145.38 204.58 145.08 204.66 144.78 204.75 144.5 204.84 144.21 204.95 143.94 205.06 A1.68 1.68 0 0 0 145.26 208.14 L145.4 208.09 145.55 208.04 145.72 207.99 145.9 207.95 146.1 207.92 146.32 207.91 146.55 207.92 146.79 207.97 147.06 208.06 147.33 208.19 147.61 208.39 147.91 208.67 148.2 209.03 148.5 209.49Z"/>
<path d="M155.54 226.46 156.03 226.61 156.42 226.76 156.73 226.92 156.97 227.09 157.16 227.26 157.29 227.43 157.39 227.61 157.47 227.78 157.52 227.95 157.55 228.12 157.58 228.28 157.6 228.44 157.61 228.6 157.63 228.75 A1.68 1.68 0 0 0 160.97 228.45 L160.96 228.28 160.94 228.11 160.93 227.94 160.92 227.76 160.92 227.58 160.93 227.39 160.96 227.19 161.01 226.99 161.1 226.78 161.24 226.56 161.43 226.33 161.69 226.08 162.03 225.82 162.46 225.54Z"/>
<path d="M154.29 191.24 152.53 191.51 150.9 191.58 149.37 191.47 147.94 191.22 146.59 190.85 145.29 190.38 144.04 189.84 142.83 189.23 141.64 188.58 140.48 187.91 139.32 187.21 138.18 186.5 137.03 185.79 135.89 185.08 A1.68 1.68 0 0 0 134.11 187.92 L135.25 188.64 136.39 189.35 137.53 190.08 138.67 190.81 139.78 191.56 140.89 192.34 141.96 193.16 143 194.05 143.99 195.01 144.91 196.07 145.77 197.24 146.53 198.56 147.19 200.06 147.71 201.76Z"/>
<path d="M160.35 184.73 159.17 184.83 158.1 184.78 157.12 184.59 156.22 184.29 155.4 183.9 154.63 183.44 153.91 182.91 153.22 182.34 152.57 181.72 151.93 181.08 151.31 180.41 150.7 179.73 150.09 179.03 149.48 178.32 A1.68 1.68 0 0 0 146.92 180.48 L147.54 181.22 148.17 181.94 148.79 182.66 149.41 183.37 150.03 184.08 150.62 184.8 151.19 185.54 151.73 186.3 152.22 187.1 152.67 187.96 153.04 188.88 153.34 189.89 153.55 191.01 153.65 192.27Z"/>
</g>
<ellipse cx="174.1" cy="214" rx="12" ry="8.4" fill="#6051b5" transform="rotate(-22 174.1 214)"/>
<ellipse cx="164" cy="192.2" rx="9.3" ry="6.6" fill="#fdf6f6" transform="rotate(-8 164 192.2)"/>
<path d="M159.42 193.08a1.44 1.44 0 1 1 -0.15 1.14M166.12 195.53a1.08 1.08 0 1 0 -1.3 -0.63M168.85 194.14a1.25 1.25 0 1 0 0.31 -0.33M158.74 193.2a1.22 1.22 0 1 0 1.06 -1.4M169.85 193.03a1.18 1.18 0 1 1 -0.56 0.29M165.04 194.02a0.94 0.94 0 1 0 0.52 -0.14M162.88 196.13a1.5 1.5 0 1 0 0.66 -0.59M164.44 194.33a0.76 0.76 0 1 0 -0.32 1.11M159.26 194.76a1.38 1.38 0 1 0 -0.92 1.37M167.71 192.99a1.27 1.27 0 1 1 -1.37 0.41M164.59 190.16a0.77 0.77 0 1 1 -1.55 -0.29M166.08 191.52a1.27 1.27 0 1 0 -1.41 0.95M166.1 194.89a1.06 1.06 0 1 0 1.55 0.86M160.54 193.4a1.02 1.02 0 1 0 -1.6 1.17M168.87 191.71a1.5 1.5 0 1 0 -0.93 -0.34M167.13 189.66a0.78 0.78 0 1 0 -0.92 -0.77M164.52 189.93a0.94 0.94 0 1 0 -1.36 -0.93M163.48 191.82a0.99 0.99 0 1 1 -1.19 0.28M165.17 190.92a1.01 1.01 0 1 0 -0.61 -0.87M159.81 190.02a0.83 0.83 0 1 0 0.6 -0.36M162.22 192.32a0.74 0.74 0 1 0 -1.48 1.48M164.39 195.55a0.91 0.91 0 1 1 -0.66 -1.04M163.69 191.17a0.88 0.88 0 1 0 -0.7 1.34M164.23 192.69a0.92 0.92 0 1 1 -0.8 -1.45M163.07 195.06a1.48 1.48 0 1 0 -0.44 1.25M169.15 191.8a1.25 1.25 0 1 0 0.29 1.36M160.22 192.58a0.95 0.95 0 1 0 -1.53 0.44M158.56 192.58a0.96 0.96 0 1 0 -1.36 0.15M163.5 188.42a1.29 1.29 0 1 0 0.94 1.33M160.84 194.86a1.42 1.42 0 1 1 1.42 -1.5" fill="none" stroke="#ee6464" stroke-width="0.5" opacity="0.9" transform="rotate(-8 164 192.2)"/>
<g fill="#7a67c7">
<path d="M266.5 184.5C269.25 184.08 273.08 184.17 276 185C278.92 185.83 281.75 187.67 284 189.5C286.25 191.33 288.25 193.58 289.5 196C290.75 198.42 291.42 201.33 291.5 204C291.58 206.67 290.92 209.42 290 212C289.08 214.58 287.83 217.42 286 219.5C284.17 221.58 281.67 223.5 279 224.5C276.33 225.5 273 225.67 270 225.5C267 225.33 263.5 224.75 261 223.5C258.5 222.25 256.58 220.25 255 218C253.42 215.75 252.08 212.83 251.5 210C250.92 207.17 251.08 203.75 251.5 201C251.92 198.25 252.67 195.75 254 193.5C255.33 191.25 257.42 189 259.5 187.5C261.58 186 263.75 184.92 266.5 184.5Z"/>
<path d="M273.43 187.25 271.92 185.71 270.69 184.15 269.71 182.57 268.93 180.99 268.32 179.4 267.85 177.8 267.5 176.22 267.23 174.64 267.03 173.07 266.88 171.52 266.77 169.97 266.68 168.44 266.61 166.93 266.55 165.43 A1.75 1.75 0 0 0 263.05 165.57 L263.11 167.08 263.18 168.62 263.25 170.17 263.32 171.73 263.37 173.31 263.39 174.91 263.35 176.53 263.25 178.17 263.05 179.84 262.73 181.54 262.26 183.28 261.6 185.05 260.71 186.88 259.57 188.75Z"/>
<path d="M280.08 192.67 280.6 190.62 281.13 188.78 281.67 187.1 282.22 185.55 282.77 184.09 283.3 182.7 283.82 181.34 284.31 180.01 284.75 178.69 285.14 177.36 285.47 176.01 285.72 174.65 285.89 173.26 285.98 171.85 A1.68 1.68 0 0 0 282.62 171.75 L282.55 172.95 282.4 174.12 282.17 175.27 281.86 176.4 281.45 177.49 280.95 178.55 280.33 179.56 279.58 180.49 278.7 181.35 277.67 182.09 276.48 182.7 275.13 183.13 273.61 183.35 271.92 183.33Z"/>
<path d="M285.72 191.65 285.55 190.9 285.45 190.23 285.43 189.62 285.47 189.06 285.56 188.56 285.69 188.09 285.85 187.65 286.02 187.24 286.21 186.85 286.41 186.48 286.61 186.12 286.8 185.77 286.99 185.44 287.17 185.1 A1.68 1.68 0 0 0 284.23 183.5 L284.06 183.8 283.88 184.11 283.69 184.44 283.49 184.76 283.27 185.09 283.02 185.42 282.75 185.75 282.44 186.06 282.09 186.36 281.68 186.64 281.21 186.88 280.66 187.09 280.02 187.25 279.28 187.35Z"/>
<path d="M287.57 207.43 289.49 206.51 291.22 205.7 292.81 204.99 294.3 204.36 295.72 203.78 297.09 203.22 298.44 202.66 299.78 202.08 301.11 201.47 302.43 200.79 303.75 200.05 305.06 199.22 306.37 198.31 307.66 197.3 A1.68 1.68 0 0 0 305.54 194.7 L304.37 195.6 303.21 196.41 302.04 197.13 300.88 197.74 299.71 198.24 298.53 198.61 297.36 198.84 296.19 198.91 295.04 198.79 293.92 198.46 292.87 197.89 291.91 197.07 291.08 195.97 290.43 194.57Z"/>
<path d="M288.5 215.65 289.07 215 289.63 214.49 290.19 214.11 290.74 213.84 291.27 213.65 291.78 213.54 292.27 213.49 292.74 213.48 293.19 213.52 293.61 213.58 294.01 213.66 294.4 213.76 294.76 213.86 295.09 213.98 A2.1 2.1 0 0 0 296.51 210.02 L296.03 209.86 295.53 209.71 295.03 209.57 294.51 209.44 293.98 209.31 293.44 209.17 292.88 209.01 292.31 208.83 291.73 208.6 291.13 208.32 290.51 207.98 289.87 207.55 289.2 207.01 288.5 206.35Z"/>
<path d="M278.95 221.27 280.6 221.96 282.04 222.72 283.31 223.55 284.44 224.45 285.46 225.4 286.39 226.4 287.26 227.44 288.08 228.5 288.88 229.58 289.66 230.68 290.45 231.79 291.24 232.9 292.04 234 292.86 235.11 A1.68 1.68 0 0 0 295.54 233.09 L294.75 232.02 293.98 230.94 293.22 229.86 292.5 228.77 291.81 227.66 291.17 226.52 290.59 225.36 290.09 224.17 289.69 222.92 289.41 221.63 289.27 220.27 289.31 218.84 289.56 217.33 290.05 215.73Z"/>
<path d="M258.59 221.47 259.47 223.18 260.07 224.84 260.44 226.43 260.61 227.97 260.62 229.45 260.49 230.89 260.25 232.27 259.92 233.62 259.52 234.92 259.07 236.19 258.59 237.42 258.07 238.63 257.54 239.81 256.99 240.96 A1.68 1.68 0 0 0 260.01 242.44 L260.59 241.23 261.15 239.99 261.7 238.74 262.25 237.47 262.81 236.18 263.39 234.88 264 233.58 264.67 232.27 265.43 230.96 266.28 229.66 267.28 228.36 268.44 227.07 269.8 225.79 271.41 224.53Z"/>
<path d="M255.33 214 254.91 215.76 254.37 217.32 253.72 218.72 252.99 219.99 252.18 221.16 251.31 222.25 250.39 223.27 249.43 224.25 248.45 225.2 247.46 226.14 246.45 227.07 245.44 228 244.44 228.94 243.44 229.89 A1.68 1.68 0 0 0 245.76 232.31 L246.74 231.39 247.72 230.47 248.72 229.57 249.73 228.7 250.76 227.85 251.82 227.04 252.91 226.28 254.06 225.58 255.26 224.98 256.54 224.47 257.9 224.09 259.37 223.87 260.95 223.83 262.67 224Z"/>
<path d="M252.71 213.01 252.59 213.62 252.44 214.14 252.27 214.58 252.07 214.95 251.86 215.27 251.64 215.54 251.42 215.77 251.19 215.97 250.97 216.14 250.75 216.3 250.55 216.43 250.35 216.56 250.17 216.68 250 216.78 A1.68 1.68 0 0 0 251.8 219.62 L251.96 219.52 252.14 219.41 252.33 219.29 252.53 219.17 252.76 219.05 253.01 218.94 253.28 218.83 253.59 218.74 253.92 218.67 254.3 218.63 254.72 218.63 255.18 218.69 255.71 218.8 256.29 218.99Z"/>
<path d="M269.81 225 270.28 225.28 270.64 225.56 270.93 225.82 271.15 226.08 271.31 226.33 271.43 226.57 271.51 226.8 271.56 227.02 271.59 227.24 271.61 227.45 271.62 227.65 271.62 227.84 271.62 228.02 271.62 228.2 A1.68 1.68 0 0 0 274.98 228.2 L274.98 228.02 274.98 227.84 274.98 227.65 274.99 227.45 275.01 227.24 275.04 227.02 275.09 226.8 275.17 226.57 275.29 226.33 275.45 226.08 275.67 225.82 275.96 225.56 276.32 225.28 276.79 225Z"/>
<path d="M253.12 200.69 251.66 201.72 250.21 202.54 248.78 203.18 247.36 203.66 245.95 204.02 244.54 204.28 243.15 204.46 241.76 204.58 240.38 204.66 239.01 204.71 237.64 204.74 236.27 204.77 234.92 204.79 233.56 204.82 A1.68 1.68 0 0 0 233.64 208.18 L234.98 208.15 236.32 208.13 237.68 208.12 239.04 208.13 240.4 208.16 241.77 208.22 243.15 208.34 244.53 208.52 245.92 208.79 247.31 209.17 248.7 209.69 250.1 210.36 251.49 211.23 252.88 212.31Z"/>
<path d="M259.34 194.16 257.46 193.72 255.76 193.29 254.2 192.89 252.74 192.52 251.37 192.19 250.05 191.92 248.78 191.7 247.52 191.55 246.27 191.48 245.03 191.5 243.78 191.62 242.54 191.85 241.3 192.19 240.06 192.65 A1.68 1.68 0 0 0 241.34 195.75 L242.32 195.4 243.28 195.13 244.23 194.97 245.16 194.91 246.07 194.95 246.96 195.12 247.82 195.4 248.65 195.83 249.43 196.41 250.13 197.14 250.73 198.05 251.21 199.13 251.53 200.39 251.66 201.84Z"/>
</g>
<ellipse cx="273.4" cy="206.7" rx="10.8" ry="11.8" fill="#6051b5" transform="rotate(28 273.4 206.7)"/>
<path d="M252.5 203.4 a4.9 4.9 0 1 1 9.8 0.9 c-0.4 2.4 -2.2 3.2 -2.2 5.4 l0.1 4.8 a2.2 2.2 0 0 1 -4.4 0.1 l-0.2 -4.9 c-0.1 -2.1 -2.7 -3 -3.1 -6.3Z" fill="#20dc20" stroke="#58cf6e" stroke-width="0.7"/>
<g transform="translate(256 179.7) rotate(-43)">
<line x1="0" y1="4" x2="0" y2="8" stroke="#d4359c" stroke-width="0.7"/>
<rect x="-2.7" y="-4.8" width="2.3" height="9.8" rx="0.8" fill="#d4359c"/><rect x="0.4" y="-4.8" width="2.3" height="9.8" rx="0.8" fill="#d4359c"/>
<rect x="-2.7" y="-0.8" width="5.4" height="1.3" fill="#a8207a"/>
<path d="M0 -4.8 q-2.2 -1 -0.2 -2.3 q2.2 -1.3 0 -2.5 q-2.2 -1.2 -0.2 -2.5 q1.6 -0.9 0.6 -1.9" fill="none" stroke="#d8232a" stroke-width="1.25" stroke-linecap="round" transform="rotate(-14 0 -4.8)"/>
</g>
<g transform="translate(280 232.3) rotate(-18)">
<line x1="0" y1="-8" x2="0" y2="-4" stroke="#1e9a4c" stroke-width="0.7"/>
<rect x="-2.9" y="-5" width="2.5" height="10.2" rx="0.8" fill="#1e9a4c"/><rect x="0.4" y="-5" width="2.5" height="10.2" rx="0.8" fill="#1e9a4c"/>
<rect x="-2.9" y="-0.8" width="5.8" height="1.4" fill="#7ad9a0"/>
<path d="M0.4 5.2 q2.2 1 0.2 2.2 q-2.2 1.2 0 2.4 q2.2 1.2 0.2 2.4 q-1.4 0.8 -0.4 1.6" fill="none" stroke="#d8232a" stroke-width="1.25" stroke-linecap="round" transform="rotate(6 0.4 5.2)"/>
</g>
<path d="M294.87 179.67h0M296.51 179.55h0M298.84 179.74h0M301.69 179.81h0M302.93 181.57h0M305.06 181.57h0M291.13 190.26h0M304.53 190.15h0M294.9 191.87h0M297.18 192.17h0M299.51 192.02h0M301.05 192.3h0" stroke="#fac48c" stroke-width="1.1" stroke-linecap="round" fill="none"/>
<path d="M295.91 181.85h0M298.29 181.98h0M292.06 184.41h0M294.83 184.39h0M296.71 183.87h0M299.35 183.65h0M293.67 186.45h0M295.34 186.44h0M297.92 185.76h0M300.54 185.96h0M292.29 187.68h0M294.42 187.96h0M297.17 188.43h0M299.09 188.21h0M301.16 187.91h0M303.49 188.44h0M293.68 190.15h0M295.63 190.18h0M297.99 190.24h0M300.06 190.4h0M302.57 189.56h0" stroke="#f5962c" stroke-width="1.25" stroke-linecap="round" fill="none"/>
<path d="M234.3 235.2 C233.2 221 240.5 210.3 253.4 208.2" fill="none" stroke="#111" stroke-width="0.7"/>
<path d="M256.4 207.6 L252.6 210 L252.1 206.3Z" fill="#111"/>
<text x="216.8" y="182.5" font-size="6.4" fill="#1a1a1a" textLength="30.2" lengthAdjust="spacingAndGlyphs">MHC Class I</text>
<text x="306.4" y="169" font-size="6.4" text-anchor="middle" fill="#1a1a1a" textLength="30" lengthAdjust="spacingAndGlyphs">Nitric Oxide</text>
<text x="306.4" y="175.2" font-size="6.4" text-anchor="middle" fill="#1a1a1a" textLength="28" lengthAdjust="spacingAndGlyphs">Production</text>
<text x="205" y="242.2" font-size="6.4" fill="#1a1a1a" textLength="43.7" lengthAdjust="spacingAndGlyphs">Autophagosome</text>
<text x="288.3" y="244.8" font-size="6.4" fill="#1a1a1a" textLength="34.6" lengthAdjust="spacingAndGlyphs">MHC Class II</text>
<text x="46.4" y="262" font-size="8" font-weight="bold" textLength="58.6" lengthAdjust="spacingAndGlyphs">Antigen Uptake</text>
<text x="132.4" y="262" font-size="8" font-weight="bold" textLength="74.1" lengthAdjust="spacingAndGlyphs">Antigen Processing</text>
<text x="231.5" y="262" font-size="8" font-weight="bold" textLength="80.1" lengthAdjust="spacingAndGlyphs">Antigen Presentation</text>
</g>
<g id="panelE">
<text x="338.2" y="152.8" font-size="10">E</text>
<text x="402.5" y="168.6" font-size="9" text-anchor="middle" font-weight="bold" textLength="46.9" lengthAdjust="spacingAndGlyphs">Autophagy</text>
<line x1="354.7" y1="175.1" x2="354.7" y2="251.9" stroke="#000" stroke-width="0.8"/>
<line x1="354.3" y1="251.5" x2="461.6" y2="251.5" stroke="#000" stroke-width="0.8"/>
<line x1="351.3" y1="251.5" x2="354.7" y2="251.5" stroke="#000" stroke-width="0.8"/>
<text x="349.9" y="253.6" font-size="5.7" text-anchor="end" font-weight="bold">0</text>
<line x1="351.3" y1="232.5" x2="354.7" y2="232.5" stroke="#000" stroke-width="0.8"/>
<text x="349.9" y="234.6" font-size="5.7" text-anchor="end" font-weight="bold">20</text>
<line x1="351.3" y1="213.5" x2="354.7" y2="213.5" stroke="#000" stroke-width="0.8"/>
<text x="349.9" y="215.6" font-size="5.7" text-anchor="end" font-weight="bold">40</text>
<line x1="351.3" y1="194.5" x2="354.7" y2="194.5" stroke="#000" stroke-width="0.8"/>
<text x="349.9" y="196.6" font-size="5.7" text-anchor="end" font-weight="bold">60</text>
<line x1="351.3" y1="175.5" x2="354.7" y2="175.5" stroke="#000" stroke-width="0.8"/>
<text x="349.9" y="177.6" font-size="5.7" text-anchor="end" font-weight="bold">80</text>
<text transform="translate(338.4 213.7) rotate(-90)" font-size="6" text-anchor="middle" font-weight="bold" textLength="64" lengthAdjust="spacingAndGlyphs">% of Cells Expressing</text>
<line x1="367.9" y1="247.6" x2="367.9" y2="248.7" stroke="#222" stroke-width="0.6"/>
<line x1="364.3" y1="247.6" x2="371.6" y2="247.6" stroke="#222" stroke-width="0.6"/>
<rect x="361.2" y="248.7" width="13.5" height="2.8" fill="#7b1a8c" stroke="#111" stroke-width="0.85"/>
<line x1="388.1" y1="247.4" x2="388.1" y2="248.3" stroke="#222" stroke-width="0.6"/>
<line x1="384.4" y1="247.4" x2="391.7" y2="247.4" stroke="#222" stroke-width="0.6"/>
<rect x="381.3" y="248.3" width="13.5" height="3.2" fill="#6b6cc4" stroke="#111" stroke-width="0.85"/>
<line x1="408.1" y1="247.2" x2="408.1" y2="248.5" stroke="#222" stroke-width="0.6"/>
<line x1="404.5" y1="247.2" x2="411.8" y2="247.2" stroke="#222" stroke-width="0.6"/>
<rect x="401.4" y="248.5" width="13.5" height="3" fill="#1d9bbb" stroke="#111" stroke-width="0.85"/>
<line x1="428.2" y1="248.8" x2="428.2" y2="249.6" stroke="#222" stroke-width="0.6"/>
<line x1="424.6" y1="248.8" x2="431.9" y2="248.8" stroke="#222" stroke-width="0.6"/>
<rect x="421.5" y="249.6" width="13.5" height="1.9" fill="#1cbf9f" stroke="#111" stroke-width="0.85"/>
<line x1="448.4" y1="206.8" x2="448.4" y2="213.4" stroke="#222" stroke-width="0.6"/>
<line x1="444.7" y1="206.8" x2="452" y2="206.8" stroke="#222" stroke-width="0.6"/>
<rect x="441.6" y="213.4" width="13.5" height="38.1" fill="#55dd58" stroke="#111" stroke-width="0.85"/>
<line x1="408.1" y1="190.8" x2="448.9" y2="190.8" stroke="#000" stroke-width="0.7"/>
<text x="427.8" y="191.1" font-size="10" text-anchor="middle" font-weight="bold">****</text>
<line x1="428.2" y1="201.3" x2="448.9" y2="201.3" stroke="#000" stroke-width="0.7"/>
<text x="438.2" y="201.6" font-size="10" text-anchor="middle" font-weight="bold">****</text>
<rect x="464" y="188.4" width="9.6" height="5.4" fill="#7b1a8c" stroke="#111" stroke-width="0.9"/>
<text x="478" y="193.4" font-size="6.7" textLength="40.6" lengthAdjust="spacingAndGlyphs">Cells Only (–)</text>
<rect x="464" y="199.9" width="9.6" height="5.4" fill="#6b6cc4" stroke="#111" stroke-width="0.9"/>
<text x="478" y="204.9" font-size="6.7" textLength="23.3" lengthAdjust="spacingAndGlyphs">Fluzone</text>
<rect x="464" y="211.4" width="9.6" height="5.4" fill="#1d9bbb" stroke="#111" stroke-width="0.9"/>
<text x="478" y="216.4" font-size="6.7" textLength="34.5" lengthAdjust="spacingAndGlyphs">M2e5x VLP</text>
<rect x="464" y="223" width="9.6" height="5.4" fill="#1cbf9f" stroke="#111" stroke-width="0.9"/>
<text x="478" y="228" font-size="6.7" textLength="51.3" lengthAdjust="spacingAndGlyphs">Blank PLGA NPs</text>
<rect x="464" y="234.6" width="9.6" height="5.4" fill="#55dd58" stroke="#111" stroke-width="0.9"/>
<text x="478" y="239.6" font-size="6.7" textLength="69.2" lengthAdjust="spacingAndGlyphs">M2e5x VLP PLGA NPs</text>
</g>
<g id="panelF">
<text x="12.6" y="287.8" font-size="10">F</text>
<text x="82.5" y="296" font-size="9" text-anchor="middle" font-weight="bold" textLength="89" lengthAdjust="spacingAndGlyphs">Nitrite Concentration</text>
<line x1="35.6" y1="303.2" x2="35.6" y2="381.6" stroke="#000" stroke-width="0.8"/>
<line x1="35.2" y1="381.2" x2="125" y2="381.2" stroke="#000" stroke-width="0.8"/>
<line x1="32.3" y1="381.2" x2="35.6" y2="381.2" stroke="#000" stroke-width="0.8"/>
<text x="30.8" y="383.2" font-size="5.6" text-anchor="end" font-weight="bold">0.00</text>
<line x1="32.3" y1="361.8" x2="35.6" y2="361.8" stroke="#000" stroke-width="0.8"/>
<text x="30.8" y="363.8" font-size="5.6" text-anchor="end" font-weight="bold">0.05</text>
<line x1="32.3" y1="342.4" x2="35.6" y2="342.4" stroke="#000" stroke-width="0.8"/>
<text x="30.8" y="344.4" font-size="5.6" text-anchor="end" font-weight="bold">0.10</text>
<line x1="32.3" y1="323" x2="35.6" y2="323" stroke="#000" stroke-width="0.8"/>
<text x="30.8" y="325" font-size="5.6" text-anchor="end" font-weight="bold">0.15</text>
<line x1="32.3" y1="303.6" x2="35.6" y2="303.6" stroke="#000" stroke-width="0.8"/>
<text x="30.8" y="305.6" font-size="5.6" text-anchor="end" font-weight="bold">0.20</text>
<text transform="translate(15.9 344.6) rotate(-90)" font-size="5.9" text-anchor="middle" font-weight="bold" textLength="24.5" lengthAdjust="spacingAndGlyphs">Nitrite (M)</text>
<line x1="45.1" y1="364.6" x2="45.1" y2="366.8" stroke="#222" stroke-width="0.6"/>
<line x1="42.6" y1="364.6" x2="47.6" y2="364.6" stroke="#222" stroke-width="0.6"/>
<rect x="40.5" y="366.8" width="9.2" height="14.4" fill="#000000" stroke="#111" stroke-width="0.85"/>
<line x1="59.6" y1="309" x2="59.6" y2="319.3" stroke="#222" stroke-width="0.6"/>
<line x1="57.2" y1="309" x2="62.1" y2="309" stroke="#222" stroke-width="0.6"/>
<rect x="55" y="319.3" width="9.2" height="61.9" fill="#f2600c" stroke="#111" stroke-width="0.85"/>
<line x1="74.2" y1="358.6" x2="74.2" y2="360.1" stroke="#222" stroke-width="0.6"/>
<line x1="71.7" y1="358.6" x2="76.7" y2="358.6" stroke="#222" stroke-width="0.6"/>
<rect x="69.6" y="360.1" width="9.2" height="21.1" fill="#f0337f" stroke="#111" stroke-width="0.85"/>
<line x1="88.8" y1="345.6" x2="88.8" y2="347.6" stroke="#222" stroke-width="0.6"/>
<line x1="86.3" y1="345.6" x2="91.2" y2="345.6" stroke="#222" stroke-width="0.6"/>
<rect x="84.2" y="347.6" width="9.2" height="33.6" fill="#17a51c" stroke="#111" stroke-width="0.85"/>
<line x1="103.3" y1="338" x2="103.3" y2="339.7" stroke="#222" stroke-width="0.6"/>
<line x1="100.8" y1="338" x2="105.8" y2="338" stroke="#222" stroke-width="0.6"/>
<rect x="98.7" y="339.7" width="9.2" height="41.5" fill="#1878e8" stroke="#111" stroke-width="0.85"/>
<line x1="117.8" y1="323.3" x2="117.8" y2="327.2" stroke="#222" stroke-width="0.6"/>
<line x1="115.4" y1="323.3" x2="120.3" y2="323.3" stroke="#222" stroke-width="0.6"/>
<rect x="113.2" y="327.2" width="9.2" height="54" fill="#8a2be2" stroke="#111" stroke-width="0.85"/>
<line x1="88.3" y1="318.1" x2="118.1" y2="318.1" stroke="#000" stroke-width="0.7"/>
<text x="103.2" y="318.4" font-size="9.5" text-anchor="middle" font-weight="bold">****</text>
<line x1="88.3" y1="333" x2="103.5" y2="333" stroke="#000" stroke-width="0.7"/>
<text x="95.9" y="333.3" font-size="9.5" text-anchor="middle" font-weight="bold">*</text>
<rect x="134" y="307.4" width="9.2" height="4.8" fill="#000000" stroke="#111" stroke-width="0.9"/>
<text x="147.3" y="312" font-size="6.4" textLength="38.9" lengthAdjust="spacingAndGlyphs">Cells Only (–)</text>
<rect x="134" y="319.6" width="9.2" height="4.8" fill="#f2600c" stroke="#111" stroke-width="0.9"/>
<text x="147.3" y="324.2" font-size="6.4" textLength="21.9" lengthAdjust="spacingAndGlyphs">LPS (+)</text>
<rect x="134" y="330.6" width="9.2" height="4.8" fill="#f0337f" stroke="#111" stroke-width="0.9"/>
<text x="147.3" y="335.2" font-size="6.4" textLength="48.5" lengthAdjust="spacingAndGlyphs">Blank PLGA NPs</text>
<rect x="134" y="341.5" width="9.2" height="4.8" fill="#17a51c" stroke="#111" stroke-width="0.9"/>
<text x="147.3" y="346.1" font-size="6.4" textLength="33.1" lengthAdjust="spacingAndGlyphs">M2e5x VLP</text>
<rect x="134" y="353.2" width="9.2" height="4.8" fill="#1878e8" stroke="#111" stroke-width="0.9"/>
<text x="147.3" y="357.8" font-size="6.4" textLength="47.1" lengthAdjust="spacingAndGlyphs">M2e5x VLP NPs</text>
<rect x="134" y="363.9" width="9.2" height="4.8" fill="#8a2be2" stroke="#111" stroke-width="0.9"/>
<text x="147.3" y="368.5" font-size="6.4" textLength="75.8" lengthAdjust="spacingAndGlyphs">M2e5x VLP + Alhydrogel®</text>
<text x="147.3" y="376.8" font-size="6.4" textLength="62.4" lengthAdjust="spacingAndGlyphs">+ MPL-A® PLGA NPs</text>
</g>
<g id="panelG">
<text x="227.6" y="286.8" font-size="10">G</text>
<text x="259.1" y="298" font-size="9" font-weight="bold" textLength="83.6" lengthAdjust="spacingAndGlyphs">MHC II<tspan font-size="5.6" dy="-2.8">+</tspan><tspan dy="2.8"> </tspan>CD40<tspan font-size="5.6" dy="-2.8">+</tspan><tspan dy="2.8"> </tspan>Cells</text>
<text x="364.5" y="298" font-size="9" font-weight="bold" textLength="80.9" lengthAdjust="spacingAndGlyphs">MHC I<tspan font-size="5.6" dy="-2.8">+</tspan><tspan dy="2.8"> </tspan>CD80<tspan font-size="5.6" dy="-2.8">+</tspan><tspan dy="2.8"> </tspan>Cells</text>
<line x1="256.5" y1="305" x2="256.5" y2="381.9" stroke="#000" stroke-width="0.8"/>
<line x1="256.1" y1="381.5" x2="339" y2="381.5" stroke="#000" stroke-width="0.8"/>
<line x1="253.3" y1="381.5" x2="256.5" y2="381.5" stroke="#000" stroke-width="0.8"/>
<text x="252" y="383.4" font-size="5.5" text-anchor="end" font-weight="bold">0</text>
<line x1="253.3" y1="368.8" x2="256.5" y2="368.8" stroke="#000" stroke-width="0.8"/>
<text x="252" y="370.7" font-size="5.5" text-anchor="end" font-weight="bold">5</text>
<line x1="253.3" y1="356.1" x2="256.5" y2="356.1" stroke="#000" stroke-width="0.8"/>
<text x="252" y="358" font-size="5.5" text-anchor="end" font-weight="bold">10</text>
<line x1="253.3" y1="343.4" x2="256.5" y2="343.4" stroke="#000" stroke-width="0.8"/>
<text x="252" y="345.3" font-size="5.5" text-anchor="end" font-weight="bold">15</text>
<line x1="253.3" y1="330.7" x2="256.5" y2="330.7" stroke="#000" stroke-width="0.8"/>
<text x="252" y="332.6" font-size="5.5" text-anchor="end" font-weight="bold">20</text>
<line x1="253.3" y1="318" x2="256.5" y2="318" stroke="#000" stroke-width="0.8"/>
<text x="252" y="319.9" font-size="5.5" text-anchor="end" font-weight="bold">25</text>
<line x1="253.3" y1="305.3" x2="256.5" y2="305.3" stroke="#000" stroke-width="0.8"/>
<text x="252" y="307.2" font-size="5.5" text-anchor="end" font-weight="bold">30</text>
<text transform="translate(241.3 343) rotate(-90)" font-size="5.9" text-anchor="middle" font-weight="bold" textLength="52.5" lengthAdjust="spacingAndGlyphs">% Cell Expressing</text>
<line x1="266.5" y1="377.4" x2="266.5" y2="378.5" stroke="#222" stroke-width="0.6"/>
<line x1="263.7" y1="377.4" x2="269.3" y2="377.4" stroke="#222" stroke-width="0.6"/>
<rect x="261.4" y="378.5" width="10.2" height="3" fill="#000000" stroke="#111" stroke-width="0.85"/>
<line x1="282.6" y1="370.6" x2="282.6" y2="373.8" stroke="#222" stroke-width="0.6"/>
<line x1="279.8" y1="370.6" x2="285.4" y2="370.6" stroke="#222" stroke-width="0.6"/>
<rect x="277.5" y="373.8" width="10.2" height="7.7" fill="#f0337f" stroke="#111" stroke-width="0.85"/>
<line x1="298.7" y1="362" x2="298.7" y2="362.5" stroke="#222" stroke-width="0.6"/>
<line x1="295.9" y1="362" x2="301.5" y2="362" stroke="#222" stroke-width="0.6"/>
<rect x="293.6" y="362.5" width="10.2" height="19" fill="#17a51c" stroke="#111" stroke-width="0.85"/>
<line x1="314.8" y1="347.6" x2="314.8" y2="351.1" stroke="#222" stroke-width="0.6"/>
<line x1="312" y1="347.6" x2="317.6" y2="347.6" stroke="#222" stroke-width="0.6"/>
<rect x="309.7" y="351.1" width="10.2" height="30.4" fill="#1878e8" stroke="#111" stroke-width="0.85"/>
<line x1="330.9" y1="322.5" x2="330.9" y2="327.8" stroke="#222" stroke-width="0.6"/>
<line x1="328.1" y1="322.5" x2="333.7" y2="322.5" stroke="#222" stroke-width="0.6"/>
<rect x="325.8" y="327.8" width="10.2" height="53.7" fill="#8a2be2" stroke="#111" stroke-width="0.85"/>
<line x1="297.9" y1="343.8" x2="313.9" y2="343.8" stroke="#000" stroke-width="0.7"/>
<text x="306.4" y="340" font-size="6.6" text-anchor="middle" fill="#222">ns</text>
<line x1="297.9" y1="318.1" x2="331.9" y2="318.1" stroke="#000" stroke-width="0.7"/>
<text x="314.8" y="318.4" font-size="9.5" text-anchor="middle" font-weight="bold">****</text>
<line x1="361.6" y1="305" x2="361.6" y2="381.9" stroke="#000" stroke-width="0.8"/>
<line x1="361.2" y1="381.5" x2="445.4" y2="381.5" stroke="#000" stroke-width="0.8"/>
<line x1="358.4" y1="381.5" x2="361.6" y2="381.5" stroke="#000" stroke-width="0.8"/>
<text x="357.1" y="383.4" font-size="5.5" text-anchor="end" font-weight="bold">0</text>
<line x1="358.4" y1="368.8" x2="361.6" y2="368.8" stroke="#000" stroke-width="0.8"/>
<text x="357.1" y="370.7" font-size="5.5" text-anchor="end" font-weight="bold">5</text>
<line x1="358.4" y1="356.1" x2="361.6" y2="356.1" stroke="#000" stroke-width="0.8"/>
<text x="357.1" y="358" font-size="5.5" text-anchor="end" font-weight="bold">10</text>
<line x1="358.4" y1="343.4" x2="361.6" y2="343.4" stroke="#000" stroke-width="0.8"/>
<text x="357.1" y="345.3" font-size="5.5" text-anchor="end" font-weight="bold">15</text>
<line x1="358.4" y1="330.7" x2="361.6" y2="330.7" stroke="#000" stroke-width="0.8"/>
<text x="357.1" y="332.6" font-size="5.5" text-anchor="end" font-weight="bold">20</text>
<line x1="358.4" y1="318" x2="361.6" y2="318" stroke="#000" stroke-width="0.8"/>
<text x="357.1" y="319.9" font-size="5.5" text-anchor="end" font-weight="bold">25</text>
<line x1="358.4" y1="305.3" x2="361.6" y2="305.3" stroke="#000" stroke-width="0.8"/>
<text x="357.1" y="307.2" font-size="5.5" text-anchor="end" font-weight="bold">30</text>
<rect x="369" y="380.9" width="6.2" height="0.6" fill="#444"/>
<rect x="385.1" y="380.7" width="6.2" height="0.6" fill="#444"/>
<line x1="404.4" y1="378.4" x2="404.4" y2="379.1" stroke="#222" stroke-width="0.6"/>
<line x1="401.6" y1="378.4" x2="407.2" y2="378.4" stroke="#222" stroke-width="0.6"/>
<rect x="399.3" y="379.1" width="10.2" height="2.4" fill="#17a51c" stroke="#111" stroke-width="0.85"/>
<line x1="420.6" y1="355.2" x2="420.6" y2="357.8" stroke="#222" stroke-width="0.6"/>
<line x1="417.8" y1="355.2" x2="423.3" y2="355.2" stroke="#222" stroke-width="0.6"/>
<rect x="415.4" y="357.8" width="10.2" height="23.7" fill="#1878e8" stroke="#111" stroke-width="0.85"/>
<line x1="436.7" y1="348.8" x2="436.7" y2="351.4" stroke="#222" stroke-width="0.6"/>
<line x1="433.9" y1="348.8" x2="439.5" y2="348.8" stroke="#222" stroke-width="0.6"/>
<rect x="431.6" y="351.4" width="10.2" height="30.1" fill="#8a2be2" stroke="#111" stroke-width="0.85"/>
<line x1="404.6" y1="337.1" x2="436.6" y2="337.1" stroke="#000" stroke-width="0.7"/>
<text x="420.7" y="337.4" font-size="9.5" text-anchor="middle" font-weight="bold">****</text>
<line x1="404.6" y1="349.3" x2="420.6" y2="349.3" stroke="#000" stroke-width="0.7"/>
<text x="412.6" y="349.6" font-size="9.5" text-anchor="middle" font-weight="bold">****</text>
<rect x="452.8" y="306" width="9.2" height="4.8" fill="#000000" stroke="#111" stroke-width="0.9"/>
<text x="466.5" y="310.7" font-size="6.6" textLength="40" lengthAdjust="spacingAndGlyphs">Cells Only (–)</text>
<rect x="452.8" y="317.5" width="9.2" height="4.8" fill="#f0337f" stroke="#111" stroke-width="0.9"/>
<text x="466.5" y="322.2" font-size="6.6" textLength="51" lengthAdjust="spacingAndGlyphs">Blank PLGA NPs</text>
<rect x="452.8" y="329.1" width="9.2" height="4.8" fill="#17a51c" stroke="#111" stroke-width="0.9"/>
<text x="466.5" y="333.8" font-size="6.6" textLength="33.5" lengthAdjust="spacingAndGlyphs">M2e5x VLP</text>
<rect x="452.8" y="340.8" width="9.2" height="4.8" fill="#1878e8" stroke="#111" stroke-width="0.9"/>
<text x="466.5" y="345.5" font-size="6.6" textLength="69" lengthAdjust="spacingAndGlyphs">M2e5x VLP PLGA NPs</text>
<rect x="452.8" y="351.7" width="9.2" height="4.8" fill="#8a2be2" stroke="#111" stroke-width="0.9"/>
<text x="466.5" y="356.4" font-size="6.6" textLength="78.2" lengthAdjust="spacingAndGlyphs">M2e5x VLP + Alhydrogel®</text>
<text x="466.5" y="365.1" font-size="6.6" textLength="64.5" lengthAdjust="spacingAndGlyphs">+ MPL-A® PLGA NPs</text>
</g>
</svg></body></html>
